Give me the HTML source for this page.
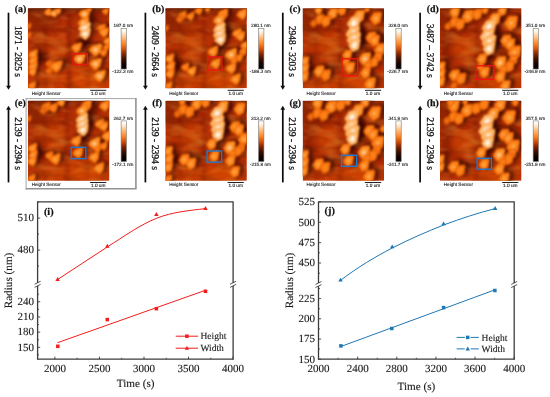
<!DOCTYPE html>
<html lang="en"><head><meta charset="utf-8"><title>Figure</title>
<style>html,body{margin:0;padding:0;background:#fff}svg{display:block}</style></head><body>
<svg width="550" height="397" viewBox="0 0 550 397" text-rendering="geometricPrecision">
<defs>
<clipPath id="pc"><rect x="0" y="0" width="81.3" height="80"/></clipPath>
<filter id="b0" x="-5%" y="-5%" width="110%" height="110%"><feGaussianBlur stdDeviation="0.9"/></filter>
<filter id="b1" x="-10%" y="-10%" width="120%" height="120%"><feGaussianBlur stdDeviation="1.3"/></filter>
<filter id="b2" x="-10%" y="-10%" width="120%" height="120%"><feGaussianBlur stdDeviation="2"/></filter>
<filter id="nz" x="0" y="0" width="100%" height="100%"><feTurbulence type="fractalNoise" baseFrequency="0.06 0.13" numOctaves="2" seed="7" result="t"/><feColorMatrix type="matrix" values="0 0 0 0 0.2  0 0 0 0 0.02  0 0 0 0 0  1.1 0 0 0 -0.5"/></filter>
<filter id="nz2" x="0" y="0" width="100%" height="100%"><feTurbulence type="fractalNoise" baseFrequency="0.05 0.11" numOctaves="2" seed="11" result="t"/><feColorMatrix type="matrix" values="0 0 0 0 0.92  0 0 0 0 0.34  0 0 0 0 0.04  0 1.0 0 0 -0.46"/></filter>
<filter id="b6" x="-40%" y="-40%" width="180%" height="180%"><feGaussianBlur stdDeviation="6"/></filter>
<filter id="b3" x="-20%" y="-20%" width="140%" height="140%"><feGaussianBlur stdDeviation="3"/></filter>
<linearGradient id="cb" x1="0" y1="0" x2="0" y2="1"><stop offset="0" stop-color="#ffffff"/><stop offset="0.08" stop-color="#fff4e4"/><stop offset="0.22" stop-color="#ffc080"/><stop offset="0.38" stop-color="#ff8424"/><stop offset="0.5" stop-color="#d85408"/><stop offset="0.62" stop-color="#8c2800"/><stop offset="0.75" stop-color="#401000"/><stop offset="0.88" stop-color="#140200"/><stop offset="1" stop-color="#000000"/></linearGradient>
<radialGradient id="g0" cx="0.47" cy="0.52" r="0.62"><stop offset="0" stop-color="#d05608"/><stop offset="1" stop-color="#c84e08"/></radialGradient>
<radialGradient id="g1" cx="0.47" cy="0.52" r="0.62"><stop offset="0" stop-color="#f87a10"/><stop offset="0.6" stop-color="#f07010"/><stop offset="1" stop-color="#ec6a0c"/></radialGradient>
<radialGradient id="g2" cx="0.47" cy="0.52" r="0.62"><stop offset="0" stop-color="#ff9624"/><stop offset="0.6" stop-color="#fd8216"/><stop offset="1" stop-color="#fa7c12"/></radialGradient>
<radialGradient id="g3" cx="0.47" cy="0.52" r="0.62"><stop offset="0" stop-color="#ffc474"/><stop offset="0.5" stop-color="#ff9a2a"/><stop offset="1" stop-color="#fe881a"/></radialGradient>
<radialGradient id="g4" cx="0.47" cy="0.52" r="0.62"><stop offset="0" stop-color="#fff0d4"/><stop offset="0.4" stop-color="#ffbe68"/><stop offset="1" stop-color="#ff9426"/></radialGradient>
<radialGradient id="g5" cx="0.47" cy="0.52" r="0.62"><stop offset="0" stop-color="#ffffff"/><stop offset="0.45" stop-color="#fff0dc"/><stop offset="0.8" stop-color="#ffd29a"/><stop offset="1" stop-color="#ffbc6c"/></radialGradient>
</defs>
<rect width="550" height="397" fill="#fff"/>
<path d="M26.1,98.2 V189.6 M25.7,98.6 H136.7" stroke="#9a9c9c" stroke-width="0.9" fill="none"/>
<path d="M135.9,98.2 V189.6 M25.7,188.8 H136.7" stroke="#929292" stroke-width="1.6" fill="none"/>
<g transform="translate(27.9,8.3)">
<g clip-path="url(#pc)">
<rect x="0" y="0" width="82" height="80" fill="#c03406"/>
<g filter="url(#b6)">
<ellipse cx="10" cy="12" rx="22" ry="13" fill="#6e1400" opacity="0.5"/>
<ellipse cx="40" cy="-3" rx="50" ry="5" fill="#4a0a00" opacity="0.7"/>
<ellipse cx="26" cy="40" rx="16" ry="10" fill="#d4480a" opacity="0.45"/>
<ellipse cx="60" cy="74" rx="22" ry="8" fill="#d84c0a" opacity="0.4"/>
</g>
<g filter="url(#b3)">
<rect x="-5" y="-5" width="91" height="7" fill="#3a0800" opacity="0.9"/>
<ellipse cx="57" cy="34" rx="8" ry="5" fill="#300400" opacity="0.9"/>
<ellipse cx="14" cy="49" rx="6" ry="5" fill="#300400" opacity="0.85"/>
<ellipse cx="66" cy="12" rx="6" ry="6" fill="#400800" opacity="0.6"/>
<ellipse cx="62" cy="70" rx="22" ry="12" fill="#d64a0a" opacity="0.6"/>
<ellipse cx="25" cy="72" rx="18" ry="8" fill="#cc4206" opacity="0.5"/>
</g>
<g filter="url(#b2)" opacity="0.8">
<rect x="39.5" y="-2" width="3.5" height="84" fill="#500a00" opacity="0.6"/>
<rect x="16" y="-2" width="3" height="84" fill="#500a00" opacity="0.45"/>
<rect x="59" y="-2" width="3" height="84" fill="#500a00" opacity="0.3"/>
<rect x="27" y="-2" width="2" height="84" fill="#500a00" opacity="0.2"/>
<rect x="-2" y="20" width="85" height="3.5" fill="#500a00" opacity="0.45"/>
<rect x="-2" y="35" width="85" height="3" fill="#500a00" opacity="0.4"/>
<rect x="-2" y="50" width="85" height="2.5" fill="#500a00" opacity="0.3"/>
<rect x="-2" y="8" width="85" height="2" fill="#500a00" opacity="0.25"/>
</g>
<rect x="0" y="0" width="82" height="80" filter="url(#nz)"/>
<rect x="0" y="0" width="82" height="80" filter="url(#nz2)"/>
<g filter="url(#b2)" fill="#200300" stroke="#200300" opacity="0.7">
<polygon points="24.12,-1.54 19.96,2.44 19.55,4.98 24.2,6.28 25.27,3.05" stroke-width="2.34" stroke-linejoin="round"/>
<polygon points="30.92,-0.16 26.14,3.04 25.28,5.47 29.64,7.55 31.25,4.56" stroke-width="2.34" stroke-linejoin="round"/>
<polygon points="34.77,-0.93 30.32,1.03 29.25,2.93 32.57,5.31 34.36,3.05" stroke-width="1.98" stroke-linejoin="round"/>
<polygon points="65.07,-0.05 57.33,1.84 55.07,4.6 59.75,9.37 63.27,6.24" stroke-width="3.24" stroke-linejoin="round"/>
<polygon points="65.34,-2.07 61.29,-0.29 60.32,1.44 63.34,3.6 64.96,1.55" stroke-width="1.8" stroke-linejoin="round"/>
<polygon points="82.71,-1.28 77.85,0.85 76.68,2.93 80.31,5.52 82.25,3.06" stroke-width="2.16" stroke-linejoin="round"/>
<polygon points="63.76,8.49 56.22,11.05 54.2,14 59.28,18.35 62.51,14.92" stroke-width="3.24" stroke-linejoin="round"/>
<polygon points="64.76,13.99 57.22,16.55 55.2,19.5 60.28,23.85 63.51,20.42" stroke-width="3.24" stroke-linejoin="round"/>
<polygon points="64.8,19.83 57.68,22.24 55.77,25.03 60.57,29.13 63.62,25.9" stroke-width="3.06" stroke-linejoin="round"/>
<polygon points="80.24,15.18 74.22,16.65 72.46,18.8 76.11,22.51 78.84,20.08" stroke-width="2.52" stroke-linejoin="round"/>
<polygon points="83.7,19.07 76.83,20.75 74.82,23.2 78.98,27.44 82.1,24.66" stroke-width="2.88" stroke-linejoin="round"/>
<polygon points="85.57,28 79.9,30.5 78.54,32.92 82.78,35.94 85.04,33.07" stroke-width="2.52" stroke-linejoin="round"/>
<polygon points="83.71,34.72 78.85,36.85 77.68,38.93 81.31,41.52 83.25,39.06" stroke-width="2.16" stroke-linejoin="round"/>
<polygon points="56.59,34.06 49.28,35.84 47.14,38.45 51.57,42.96 54.88,40" stroke-width="3.06" stroke-linejoin="round"/>
<polygon points="77.13,35.13 68.53,37.23 66.02,40.3 71.23,45.61 75.13,42.13" stroke-width="3.6" stroke-linejoin="round"/>
<polygon points="81.76,40.29 76.17,41.66 74.54,43.65 77.92,47.1 80.46,44.84" stroke-width="2.34" stroke-linejoin="round"/>
<polygon points="60.55,44.54 52.38,46.54 49.99,49.45 54.94,54.49 58.65,51.19" stroke-width="3.42" stroke-linejoin="round"/>
<polygon points="76.65,49.54 68.48,51.54 66.09,54.45 71.04,59.49 74.75,56.19" stroke-width="3.42" stroke-linejoin="round"/>
<polygon points="80.65,61.64 72.48,63.64 70.09,66.55 75.04,71.59 78.75,68.29" stroke-width="3.42" stroke-linejoin="round"/>
<polygon points="11.94,40.59 5.46,43.44 3.91,46.2 8.74,49.66 11.34,46.38" stroke-width="2.88" stroke-linejoin="round"/>
<polygon points="11.94,47.09 5.46,49.94 3.91,52.7 8.74,56.16 11.34,52.88" stroke-width="2.88" stroke-linejoin="round"/>
<polygon points="11.94,52.69 5.46,55.54 3.91,58.3 8.74,61.76 11.34,58.48" stroke-width="2.88" stroke-linejoin="round"/>
<polygon points="10.47,58.5 4.8,61 3.44,63.42 7.68,66.44 9.94,63.57" stroke-width="2.52" stroke-linejoin="round"/>
<polygon points="37.35,52.14 29.18,54.14 26.79,57.05 31.74,62.09 35.45,58.79" stroke-width="3.42" stroke-linejoin="round"/>
<polygon points="10.07,72.5 4.4,75 3.04,77.42 7.28,80.44 9.54,77.57" stroke-width="2.52" stroke-linejoin="round"/>
</g>
<g filter="url(#b0)">
<polygon points="21.58,-0.23 17.89,3.31 17.52,5.57 21.65,6.72 22.6,3.85" fill="#f06408" stroke="#f06408" stroke-width="2.5" stroke-linejoin="round"/><polygon points="21.15,0.8 18.29,3.54 18,5.29 21.2,6.18 21.94,3.96" fill="url(#g3)" stroke="#fe881a" stroke-width="1.87" stroke-linejoin="round"/>
<polygon points="28.29,1.11 24.04,3.95 23.28,6.11 27.16,7.96 28.59,5.3" fill="#f26808" stroke="#f26808" stroke-width="2.5" stroke-linejoin="round"/><polygon points="27.87,1.77 24.26,4.19 23.61,6.02 26.9,7.6 28.12,5.34" fill="url(#g4)" stroke="#ff9426" stroke-width="1.87" stroke-linejoin="round"/>
<polygon points="32.48,0.1 28.52,1.84 27.57,3.53 30.53,5.64 32.11,3.63" fill="#f06408" stroke="#f06408" stroke-width="2.11" stroke-linejoin="round"/><polygon points="31.86,0.82 28.79,2.17 28.05,3.48 30.34,5.11 31.57,3.56" fill="url(#g3)" stroke="#fe881a" stroke-width="1.58" stroke-linejoin="round"/>
<polygon points="61.22,1.53 54.35,3.21 52.34,5.66 56.5,9.9 59.62,7.12" fill="#f26808" stroke="#f26808" stroke-width="3.46" stroke-linejoin="round"/><polygon points="60.39,2.23 54.55,3.66 52.84,5.74 56.38,9.35 59.03,6.99" fill="url(#g4)" stroke="#ff9426" stroke-width="2.59" stroke-linejoin="round"/>
<polygon points="63.26,-1.14 59.66,0.44 58.79,1.98 61.48,3.9 62.92,2.08" fill="#ea5e06" stroke="#ea5e06" stroke-width="1.92" stroke-linejoin="round"/><polygon points="62.63,-0.42 59.93,0.77 59.28,1.92 61.3,3.36 62.38,1.99" fill="url(#g2)" stroke="#fa7c12" stroke-width="1.44" stroke-linejoin="round"/>
<polygon points="80.21,-0.17 75.89,1.73 74.85,3.58 78.08,5.88 79.8,3.69" fill="#ea5e06" stroke="#ea5e06" stroke-width="2.3" stroke-linejoin="round"/><polygon points="79.46,0.7 76.22,2.12 75.44,3.5 77.86,5.23 79.16,3.59" fill="url(#g2)" stroke="#fa7c12" stroke-width="1.73" stroke-linejoin="round"/>
<polygon points="59.96,10.12 53.26,12.4 51.47,15.01 55.98,18.88 58.85,15.83" fill="#f26808" stroke="#f26808" stroke-width="3.46" stroke-linejoin="round"/><polygon points="59.18,10.89 53.48,12.82 51.96,15.05 55.8,18.33 58.24,15.74" fill="url(#g4)" stroke="#ff9426" stroke-width="2.59" stroke-linejoin="round"/>
<polygon points="61.23,15.36 54.12,17.77 52.22,20.55 57.01,24.64 60.05,21.41" fill="#f6760e" stroke="#f6760e" stroke-width="3.66" stroke-linejoin="round"/><polygon points="61.11,15.47 54.01,17.88 52.11,20.66 56.9,24.76 59.94,21.53" fill="url(#g5)" stroke="#ffbc6c" stroke-width="2.75" stroke-linejoin="round"/>
<polygon points="61.46,21.12 54.75,23.39 52.96,26.01 57.48,29.88 60.36,26.84" fill="#f6760e" stroke="#f6760e" stroke-width="3.46" stroke-linejoin="round"/><polygon points="61.36,21.22 54.65,23.5 52.85,26.12 57.38,29.99 60.25,26.94" fill="url(#g5)" stroke="#ffbc6c" stroke-width="2.59" stroke-linejoin="round"/>
<polygon points="77.25,16.41 71.9,17.72 70.34,19.63 73.58,22.93 76.01,20.76" fill="#ea5e06" stroke="#ea5e06" stroke-width="2.69" stroke-linejoin="round"/><polygon points="76.23,17.27 72.22,18.25 71.05,19.68 73.47,22.15 75.3,20.53" fill="url(#g2)" stroke="#fa7c12" stroke-width="2.02" stroke-linejoin="round"/>
<polygon points="80.29,20.47 74.18,21.96 72.39,24.14 76.09,27.92 78.87,25.44" fill="#f06408" stroke="#f06408" stroke-width="3.07" stroke-linejoin="round"/><polygon points="79.23,21.36 74.49,22.52 73.1,24.21 75.97,27.13 78.12,25.21" fill="url(#g3)" stroke="#fe881a" stroke-width="2.3" stroke-linejoin="round"/>
<polygon points="82.66,29.3 77.62,31.52 76.41,33.67 80.17,36.36 82.19,33.81" fill="#f06408" stroke="#f06408" stroke-width="2.69" stroke-linejoin="round"/><polygon points="81.86,30.22 77.96,31.94 77.02,33.6 79.94,35.69 81.5,33.71" fill="url(#g3)" stroke="#fe881a" stroke-width="2.02" stroke-linejoin="round"/>
<polygon points="81.21,35.83 76.89,37.73 75.85,39.58 79.08,41.88 80.8,39.69" fill="#ea5e06" stroke="#ea5e06" stroke-width="2.3" stroke-linejoin="round"/><polygon points="80.46,36.7 77.22,38.12 76.44,39.5 78.86,41.23 80.16,39.59" fill="url(#g2)" stroke="#fa7c12" stroke-width="1.73" stroke-linejoin="round"/>
<polygon points="52.96,35.55 46.46,37.14 44.56,39.45 48.5,43.46 51.44,40.83" fill="#f06408" stroke="#f06408" stroke-width="3.26" stroke-linejoin="round"/><polygon points="51.83,36.49 46.8,37.72 45.32,39.52 48.37,42.63 50.66,40.59" fill="url(#g3)" stroke="#fe881a" stroke-width="2.45" stroke-linejoin="round"/>
<polygon points="72.86,36.88 65.22,38.75 62.98,41.48 67.61,46.19 71.08,43.1" fill="#f26808" stroke="#f26808" stroke-width="3.84" stroke-linejoin="round"/><polygon points="71.94,37.67 65.44,39.26 63.54,41.57 67.48,45.58 70.42,42.95" fill="url(#g4)" stroke="#ff9426" stroke-width="2.88" stroke-linejoin="round"/>
<polygon points="78.98,41.43 74.02,42.64 72.56,44.42 75.57,47.48 77.83,45.47" fill="#ea5e06" stroke="#ea5e06" stroke-width="2.5" stroke-linejoin="round"/><polygon points="78.04,42.23 74.31,43.14 73.22,44.47 75.48,46.76 77.17,45.26" fill="url(#g2)" stroke="#fa7c12" stroke-width="1.87" stroke-linejoin="round"/>
<polygon points="56.49,46.2 49.23,47.98 47.11,50.57 51.51,55.05 54.8,52.11" fill="#f26808" stroke="#f26808" stroke-width="3.65" stroke-linejoin="round"/><polygon points="55.61,46.95 49.44,48.46 47.64,50.66 51.38,54.47 54.18,51.97" fill="url(#g4)" stroke="#ff9426" stroke-width="2.74" stroke-linejoin="round"/>
<polygon points="72.59,51.2 65.33,52.98 63.21,55.57 67.61,60.05 70.9,57.11" fill="#f26808" stroke="#f26808" stroke-width="3.65" stroke-linejoin="round"/><polygon points="71.71,51.95 65.54,53.46 63.74,55.66 67.48,59.47 70.28,56.97" fill="url(#g4)" stroke="#ff9426" stroke-width="2.74" stroke-linejoin="round"/>
<polygon points="76.59,63.3 69.33,65.08 67.21,67.67 71.61,72.15 74.9,69.21" fill="#f26808" stroke="#f26808" stroke-width="3.65" stroke-linejoin="round"/><polygon points="75.71,64.05 69.54,65.56 67.74,67.76 71.48,71.57 74.28,69.07" fill="url(#g4)" stroke="#ff9426" stroke-width="2.74" stroke-linejoin="round"/>
<polygon points="8.61,42.08 2.85,44.61 1.47,47.07 5.77,50.14 8.07,47.22" fill="#f06408" stroke="#f06408" stroke-width="3.07" stroke-linejoin="round"/><polygon points="7.7,43.12 3.24,45.09 2.17,46.99 5.5,49.37 7.28,47.11" fill="url(#g3)" stroke="#fe881a" stroke-width="2.3" stroke-linejoin="round"/>
<polygon points="8.61,48.58 2.85,51.11 1.47,53.57 5.77,56.64 8.07,53.72" fill="#f06408" stroke="#f06408" stroke-width="3.07" stroke-linejoin="round"/><polygon points="7.7,49.62 3.24,51.59 2.17,53.49 5.5,55.87 7.28,53.61" fill="url(#g3)" stroke="#fe881a" stroke-width="2.3" stroke-linejoin="round"/>
<polygon points="8.61,54.18 2.85,56.71 1.47,59.17 5.77,62.24 8.07,59.32" fill="#f06408" stroke="#f06408" stroke-width="3.07" stroke-linejoin="round"/><polygon points="7.7,55.22 3.24,57.19 2.17,59.09 5.5,61.47 7.28,59.21" fill="url(#g3)" stroke="#fe881a" stroke-width="2.3" stroke-linejoin="round"/>
<polygon points="7.56,59.8 2.52,62.02 1.31,64.17 5.07,66.86 7.09,64.31" fill="#f06408" stroke="#f06408" stroke-width="2.69" stroke-linejoin="round"/><polygon points="6.76,60.72 2.86,62.44 1.92,64.1 4.84,66.19 6.4,64.21" fill="url(#g3)" stroke="#fe881a" stroke-width="2.02" stroke-linejoin="round"/>
<polygon points="23.71,52.23 19.39,54.13 18.35,55.98 21.58,58.28 23.3,56.09" fill="#da5404" stroke="#da5404" stroke-width="2.3" stroke-linejoin="round"/><polygon points="22.89,53.18 19.76,54.55 19.01,55.89 21.35,57.56 22.6,55.97" fill="url(#g1)" stroke="#ec6a0c" stroke-width="1.73" stroke-linejoin="round"/>
<polygon points="23.71,59.33 19.39,61.23 18.35,63.08 21.58,65.38 23.3,63.19" fill="#da5404" stroke="#da5404" stroke-width="2.3" stroke-linejoin="round"/><polygon points="22.89,60.28 19.76,61.65 19.01,62.99 21.35,64.66 22.6,63.07" fill="url(#g1)" stroke="#ec6a0c" stroke-width="1.73" stroke-linejoin="round"/>
<polygon points="33.29,53.8 26.03,55.58 23.91,58.17 28.31,62.65 31.6,59.71" fill="#f06408" stroke="#f06408" stroke-width="3.65" stroke-linejoin="round"/><polygon points="32.03,54.86 26.41,56.24 24.76,58.25 28.17,61.72 30.72,59.44" fill="url(#g3)" stroke="#fe881a" stroke-width="2.74" stroke-linejoin="round"/>
<polygon points="7.16,73.8 2.12,76.02 0.91,78.17 4.67,80.86 6.69,78.31" fill="#ea5e06" stroke="#ea5e06" stroke-width="2.69" stroke-linejoin="round"/><polygon points="6.28,74.81 2.5,76.48 1.6,78.09 4.42,80.1 5.93,78.19" fill="url(#g2)" stroke="#fa7c12" stroke-width="2.02" stroke-linejoin="round"/>
<polygon points="2.76,15.36 -0.84,16.94 -1.71,18.48 0.98,20.4 2.42,18.58" fill="#da5404" stroke="#da5404" stroke-width="1.92" stroke-linejoin="round"/><polygon points="2.08,16.15 -0.53,17.29 -1.16,18.41 0.79,19.8 1.83,18.48" fill="url(#g1)" stroke="#ec6a0c" stroke-width="1.44" stroke-linejoin="round"/>
<polygon points="2.76,24.36 -0.84,25.94 -1.71,27.48 0.98,29.4 2.42,27.58" fill="#da5404" stroke="#da5404" stroke-width="1.92" stroke-linejoin="round"/><polygon points="2.08,25.15 -0.53,26.29 -1.16,27.41 0.79,28.8 1.83,27.48" fill="url(#g1)" stroke="#ec6a0c" stroke-width="1.44" stroke-linejoin="round"/>
</g>
</g>
<rect x="45.2" y="45.5" width="14.3" height="10.6" fill="none" stroke="#f01414" stroke-width="1.35"/>
<text x="3.8" y="86.3" font-size="4.75" font-family="Liberation Sans, sans-serif" fill="#222" stroke="#222" stroke-width="0.12" textLength="29.2" lengthAdjust="spacingAndGlyphs">Height Sensor</text>
<rect x="62.2" y="81.5" width="16.2" height="1.0" fill="#222"/>
<text x="70.3" y="86.9" font-size="4.75" font-family="Liberation Sans, sans-serif" fill="#222" stroke="#222" stroke-width="0.12" text-anchor="middle">1.0 um</text>
<rect x="93.2" y="20.1" width="5.3" height="40.6" fill="url(#cb)" stroke="#777" stroke-width="0.6"/>
<text x="95.5" y="19.2" font-size="4.7" font-family="Liberation Sans, sans-serif" fill="#222" stroke="#222" stroke-width="0.12" text-anchor="middle">187.0 nm</text>
<text x="95" y="65.0" font-size="4.7" font-family="Liberation Sans, sans-serif" fill="#222" stroke="#222" stroke-width="0.12" text-anchor="middle">-122.3 nm</text>
<text x="-13.2" y="4" font-size="9.9"  font-weight="bold" font-family="Liberation Serif, serif" fill="#111" stroke="#111" stroke-width="0.25">(a)</text>
<rect x="-20.25" y="4.4" width="1.7" height="74" fill="#0a0a0a"/>
<polygon points="-19.4,81.4 -21.8,77.4 -17,77.4" fill="#111"/>
<text transform="translate(-12.8,17.6) rotate(90)" font-size="10.4" font-family="Liberation Serif, serif" fill="#111" stroke="#111" stroke-width="0.3" textLength="51" lengthAdjust="spacingAndGlyphs">1871 - 2825 s</text>
</g>
<g transform="translate(165.4,8.3)">
<g clip-path="url(#pc)">
<rect x="0" y="0" width="82" height="80" fill="#bc3204"/>
<g filter="url(#b6)">
<ellipse cx="10" cy="12" rx="22" ry="13" fill="#6e1400" opacity="0.5"/>
<ellipse cx="40" cy="-3" rx="50" ry="5" fill="#4a0a00" opacity="0.7"/>
<ellipse cx="26" cy="40" rx="16" ry="10" fill="#d4480a" opacity="0.45"/>
<ellipse cx="60" cy="74" rx="22" ry="8" fill="#d84c0a" opacity="0.4"/>
</g>
<g filter="url(#b3)">
<rect x="-5" y="-5" width="91" height="6" fill="#3a0800" opacity="0.7"/>
<ellipse cx="56" cy="38" rx="7" ry="5" fill="#300400" opacity="0.9"/>
<ellipse cx="63" cy="22" rx="5" ry="9" fill="#300400" opacity="0.7"/>
<ellipse cx="12" cy="57" rx="6" ry="5" fill="#300400" opacity="0.85"/>
<ellipse cx="67" cy="9" rx="5" ry="5" fill="#400800" opacity="0.6"/>
<ellipse cx="79" cy="32" rx="4" ry="5" fill="#300400" opacity="0.6"/>
<ellipse cx="55" cy="72" rx="26" ry="10" fill="#d44808" opacity="0.6"/>
<ellipse cx="25" cy="74" rx="18" ry="7" fill="#c84006" opacity="0.5"/>
<ellipse cx="25" cy="30" rx="14" ry="12" fill="#c63e06" opacity="0.4"/>
</g>
<g filter="url(#b2)" opacity="0.8">
<rect x="36.5" y="-2" width="3.5" height="84" fill="#500a00" opacity="0.5"/>
<rect x="14" y="-2" width="3" height="84" fill="#500a00" opacity="0.35"/>
<rect x="58" y="-2" width="3" height="84" fill="#500a00" opacity="0.25"/>
<rect x="-2" y="22" width="85" height="3.5" fill="#500a00" opacity="0.4"/>
<rect x="-2" y="41" width="85" height="3" fill="#500a00" opacity="0.4"/>
<rect x="-2" y="53" width="85" height="2.5" fill="#500a00" opacity="0.25"/>
</g>
<rect x="0" y="0" width="82" height="80" filter="url(#nz)"/>
<rect x="0" y="0" width="82" height="80" filter="url(#nz2)"/>
<g filter="url(#b2)" fill="#200300" stroke="#200300" opacity="0.7">
<polygon points="39.17,-2.51 33.6,-0.06 32.26,2.32 36.42,5.29 38.65,2.47" stroke-width="2.48" stroke-linejoin="round"/>
<polygon points="46.27,-2.51 42.28,-0.76 41.33,0.94 44.3,3.06 45.89,1.05" stroke-width="1.77" stroke-linejoin="round"/>
<polygon points="22.97,2.09 17.4,4.54 16.06,6.92 20.22,9.89 22.45,7.07" stroke-width="2.48" stroke-linejoin="round"/>
<polygon points="30.97,3.09 25.4,5.54 24.06,7.92 28.22,10.89 30.45,8.07" stroke-width="2.48" stroke-linejoin="round"/>
<polygon points="65.08,-0.32 57.91,2.84 56.19,5.89 61.54,9.72 64.41,6.08" stroke-width="3.19" stroke-linejoin="round"/>
<polygon points="61.5,5.33 53.94,8.66 52.12,11.89 57.77,15.92 60.8,12.09" stroke-width="3.36" stroke-linejoin="round"/>
<polygon points="84.28,-0.32 77.11,2.84 75.39,5.89 80.74,9.72 83.61,6.08" stroke-width="3.19" stroke-linejoin="round"/>
<polygon points="62.1,14.33 54.54,17.66 52.72,20.89 58.37,24.92 61.4,21.09" stroke-width="3.36" stroke-linejoin="round"/>
<polygon points="62.1,19.53 54.54,22.86 52.72,26.09 58.37,30.12 61.4,26.29" stroke-width="3.36" stroke-linejoin="round"/>
<polygon points="62.48,24.88 55.31,28.04 53.59,31.09 58.94,34.92 61.81,31.28" stroke-width="3.19" stroke-linejoin="round"/>
<polygon points="78.33,19.58 71.95,22.39 70.42,25.11 75.18,28.5 77.73,25.28" stroke-width="2.83" stroke-linejoin="round"/>
<polygon points="81.83,22.58 75.45,25.39 73.92,28.11 78.68,31.5 81.23,28.28" stroke-width="2.83" stroke-linejoin="round"/>
<polygon points="86.43,31.68 80.05,34.49 78.52,37.21 83.28,40.6 85.83,37.38" stroke-width="2.83" stroke-linejoin="round"/>
<polygon points="83.57,38.39 78,40.84 76.66,43.22 80.82,46.19 83.05,43.37" stroke-width="2.48" stroke-linejoin="round"/>
<polygon points="55.08,36.98 47.91,40.14 46.19,43.19 51.54,47.02 54.41,43.38" stroke-width="3.19" stroke-linejoin="round"/>
<polygon points="74.03,39.28 66.07,42.78 64.15,46.18 70.1,50.43 73.29,46.39" stroke-width="3.54" stroke-linejoin="round"/>
<polygon points="79.47,44.49 73.9,46.94 72.56,49.32 76.72,52.29 78.95,49.47" stroke-width="2.48" stroke-linejoin="round"/>
<polygon points="73.62,48.59 68.84,50.69 67.69,52.73 71.26,55.28 73.17,52.86" stroke-width="2.12" stroke-linejoin="round"/>
<polygon points="57.68,49.08 50.51,52.24 48.79,55.29 54.14,59.12 57.01,55.48" stroke-width="3.19" stroke-linejoin="round"/>
<polygon points="73.18,53.68 66.01,56.84 64.29,59.89 69.64,63.72 72.51,60.08" stroke-width="3.19" stroke-linejoin="round"/>
<polygon points="77.68,64.68 70.51,67.84 68.79,70.89 74.14,74.72 77.01,71.08" stroke-width="3.19" stroke-linejoin="round"/>
<polygon points="10.83,44.78 4.45,47.59 2.92,50.31 7.68,53.7 10.23,50.48" stroke-width="2.83" stroke-linejoin="round"/>
<polygon points="11.83,52.78 5.45,55.59 3.92,58.31 8.68,61.7 11.23,58.48" stroke-width="2.83" stroke-linejoin="round"/>
<polygon points="11.23,59.88 4.85,62.69 3.32,65.41 8.08,68.8 10.63,65.58" stroke-width="2.83" stroke-linejoin="round"/>
<polygon points="8.97,72.59 3.4,75.04 2.06,77.42 6.22,80.39 8.45,77.57" stroke-width="2.48" stroke-linejoin="round"/>
<polygon points="25.67,53.89 20.1,56.34 18.76,58.72 22.92,61.69 25.15,58.87" stroke-width="2.48" stroke-linejoin="round"/>
<polygon points="33.03,57.28 26.65,60.09 25.12,62.81 29.88,66.2 32.43,62.98" stroke-width="2.83" stroke-linejoin="round"/>
</g>
<g filter="url(#b0)">
<polygon points="36.31,-1.23 31.35,0.95 30.16,3.06 33.86,5.7 35.84,3.19" fill="#ea5e06" stroke="#ea5e06" stroke-width="2.64" stroke-linejoin="round"/><polygon points="35.45,-0.24 31.73,1.39 30.84,2.98 33.61,4.96 35.1,3.08" fill="url(#g2)" stroke="#fa7c12" stroke-width="1.98" stroke-linejoin="round"/>
<polygon points="44.22,-1.6 40.68,-0.04 39.83,1.47 42.47,3.36 43.89,1.57" fill="#ea5e06" stroke="#ea5e06" stroke-width="1.89" stroke-linejoin="round"/><polygon points="43.6,-0.89 40.95,0.28 40.31,1.41 42.3,2.83 43.36,1.48" fill="url(#g2)" stroke="#fa7c12" stroke-width="1.42" stroke-linejoin="round"/>
<polygon points="20.11,3.37 15.15,5.55 13.96,7.66 17.66,10.3 19.64,7.79" fill="#ea5e06" stroke="#ea5e06" stroke-width="2.64" stroke-linejoin="round"/><polygon points="19.25,4.36 15.53,5.99 14.64,7.58 17.41,9.56 18.9,7.68" fill="url(#g2)" stroke="#fa7c12" stroke-width="1.98" stroke-linejoin="round"/>
<polygon points="28.11,4.37 23.15,6.55 21.96,8.66 25.66,11.3 27.64,8.79" fill="#ea5e06" stroke="#ea5e06" stroke-width="2.64" stroke-linejoin="round"/><polygon points="27.25,5.36 23.53,6.99 22.64,8.58 25.41,10.56 26.9,8.68" fill="url(#g2)" stroke="#fa7c12" stroke-width="1.98" stroke-linejoin="round"/>
<polygon points="16.66,7.88 12.41,9.75 11.39,11.57 14.57,13.83 16.27,11.68" fill="#da5404" stroke="#da5404" stroke-width="2.27" stroke-linejoin="round"/><polygon points="15.86,8.81 12.78,10.17 12.04,11.48 14.34,13.12 15.57,11.56" fill="url(#g1)" stroke="#ec6a0c" stroke-width="1.7" stroke-linejoin="round"/>
<polygon points="61.39,1.33 55.02,4.13 53.49,6.85 58.25,10.25 60.8,7.02" fill="#f06408" stroke="#f06408" stroke-width="3.4" stroke-linejoin="round"/><polygon points="60.39,2.48 55.45,4.66 54.26,6.76 57.95,9.4 59.93,6.9" fill="url(#g3)" stroke="#fe881a" stroke-width="2.55" stroke-linejoin="round"/>
<polygon points="57.61,7.07 50.89,10.03 49.27,12.9 54.3,16.48 56.99,13.08" fill="#f26808" stroke="#f26808" stroke-width="3.59" stroke-linejoin="round"/><polygon points="56.87,7.92 51.15,10.44 49.78,12.87 54.05,15.92 56.34,13.03" fill="url(#g4)" stroke="#ff9426" stroke-width="2.69" stroke-linejoin="round"/>
<polygon points="80.59,1.33 74.22,4.13 72.69,6.85 77.45,10.25 80,7.02" fill="#f06408" stroke="#f06408" stroke-width="3.4" stroke-linejoin="round"/><polygon points="79.59,2.48 74.65,4.66 73.46,6.76 77.15,9.4 79.13,6.9" fill="url(#g3)" stroke="#fe881a" stroke-width="2.55" stroke-linejoin="round"/>
<polygon points="58.47,15.77 51.34,18.91 49.63,21.95 54.95,25.75 57.8,22.14" fill="#f6760e" stroke="#f6760e" stroke-width="3.8" stroke-linejoin="round"/><polygon points="58.35,15.89 51.22,19.03 49.51,22.07 54.83,25.87 57.68,22.26" fill="url(#g5)" stroke="#ffbc6c" stroke-width="2.85" stroke-linejoin="round"/>
<polygon points="58.47,20.97 51.34,24.11 49.63,27.15 54.95,30.95 57.8,27.34" fill="#f6760e" stroke="#f6760e" stroke-width="3.8" stroke-linejoin="round"/><polygon points="58.35,21.09 51.22,24.23 49.51,27.27 54.83,31.07 57.68,27.46" fill="url(#g5)" stroke="#ffbc6c" stroke-width="2.85" stroke-linejoin="round"/>
<polygon points="59.03,26.25 52.28,29.22 50.66,32.1 55.7,35.7 58.4,32.28" fill="#f6760e" stroke="#f6760e" stroke-width="3.6" stroke-linejoin="round"/><polygon points="58.92,26.36 52.17,29.33 50.54,32.21 55.59,35.82 58.29,32.39" fill="url(#g5)" stroke="#ffbc6c" stroke-width="2.7" stroke-linejoin="round"/>
<polygon points="75.05,21.05 69.39,23.54 68.03,25.96 72.26,28.98 74.52,26.11" fill="#f06408" stroke="#f06408" stroke-width="3.02" stroke-linejoin="round"/><polygon points="74.16,22.08 69.77,24.01 68.71,25.88 71.99,28.22 73.75,26" fill="url(#g3)" stroke="#fe881a" stroke-width="2.27" stroke-linejoin="round"/>
<polygon points="78.55,24.05 72.89,26.54 71.53,28.96 75.76,31.98 78.02,29.11" fill="#f06408" stroke="#f06408" stroke-width="3.02" stroke-linejoin="round"/><polygon points="77.66,25.08 73.27,27.01 72.21,28.88 75.49,31.22 77.25,29" fill="url(#g3)" stroke="#fe881a" stroke-width="2.27" stroke-linejoin="round"/>
<polygon points="83.15,33.15 77.49,35.64 76.13,38.06 80.36,41.08 82.62,38.21" fill="#f06408" stroke="#f06408" stroke-width="3.02" stroke-linejoin="round"/><polygon points="82.26,34.18 77.87,36.11 76.81,37.98 80.09,40.32 81.85,38.1" fill="url(#g3)" stroke="#fe881a" stroke-width="2.27" stroke-linejoin="round"/>
<polygon points="80.71,39.67 75.75,41.85 74.56,43.96 78.26,46.6 80.24,44.09" fill="#ea5e06" stroke="#ea5e06" stroke-width="2.64" stroke-linejoin="round"/><polygon points="79.85,40.66 76.13,42.29 75.24,43.88 78.01,45.86 79.5,43.98" fill="url(#g2)" stroke="#fa7c12" stroke-width="1.98" stroke-linejoin="round"/>
<polygon points="51.39,38.63 45.02,41.43 43.49,44.15 48.25,47.55 50.8,44.32" fill="#f06408" stroke="#f06408" stroke-width="3.4" stroke-linejoin="round"/><polygon points="50.39,39.78 45.45,41.96 44.26,44.06 47.95,46.7 49.93,44.2" fill="url(#g3)" stroke="#fe881a" stroke-width="2.55" stroke-linejoin="round"/>
<polygon points="69.94,41.11 62.86,44.22 61.16,47.24 66.44,51.02 69.28,47.43" fill="#f26808" stroke="#f26808" stroke-width="3.78" stroke-linejoin="round"/><polygon points="69.15,42 63.14,44.65 61.69,47.22 66.18,50.43 68.59,47.38" fill="url(#g4)" stroke="#ff9426" stroke-width="2.83" stroke-linejoin="round"/>
<polygon points="76.61,45.77 71.65,47.95 70.46,50.06 74.16,52.7 76.14,50.19" fill="#ea5e06" stroke="#ea5e06" stroke-width="2.64" stroke-linejoin="round"/><polygon points="75.75,46.76 72.03,48.39 71.14,49.98 73.91,51.96 75.4,50.08" fill="url(#g2)" stroke="#fa7c12" stroke-width="1.98" stroke-linejoin="round"/>
<polygon points="71.16,49.68 66.91,51.55 65.89,53.37 69.07,55.63 70.77,53.48" fill="#ea5e06" stroke="#ea5e06" stroke-width="2.27" stroke-linejoin="round"/><polygon points="70.43,50.53 67.24,51.94 66.48,53.3 68.85,54.99 70.13,53.38" fill="url(#g2)" stroke="#fa7c12" stroke-width="1.7" stroke-linejoin="round"/>
<polygon points="53.99,50.73 47.62,53.53 46.09,56.25 50.85,59.65 53.4,56.42" fill="#f06408" stroke="#f06408" stroke-width="3.4" stroke-linejoin="round"/><polygon points="52.99,51.88 48.05,54.06 46.86,56.16 50.55,58.8 52.53,56.3" fill="url(#g3)" stroke="#fe881a" stroke-width="2.55" stroke-linejoin="round"/>
<polygon points="69.49,55.33 63.12,58.13 61.59,60.85 66.35,64.25 68.9,61.02" fill="#f06408" stroke="#f06408" stroke-width="3.4" stroke-linejoin="round"/><polygon points="68.49,56.48 63.55,58.66 62.36,60.76 66.05,63.4 68.03,60.9" fill="url(#g3)" stroke="#fe881a" stroke-width="2.55" stroke-linejoin="round"/>
<polygon points="73.99,66.33 67.62,69.13 66.09,71.85 70.85,75.25 73.4,72.02" fill="#f06408" stroke="#f06408" stroke-width="3.4" stroke-linejoin="round"/><polygon points="72.99,67.48 68.05,69.66 66.86,71.76 70.55,74.4 72.53,71.9" fill="url(#g3)" stroke="#fe881a" stroke-width="2.55" stroke-linejoin="round"/>
<polygon points="7.55,46.25 1.89,48.74 0.53,51.16 4.76,54.18 7.02,51.31" fill="#f06408" stroke="#f06408" stroke-width="3.02" stroke-linejoin="round"/><polygon points="6.66,47.28 2.27,49.21 1.21,51.08 4.49,53.42 6.25,51.2" fill="url(#g3)" stroke="#fe881a" stroke-width="2.27" stroke-linejoin="round"/>
<polygon points="8.55,54.25 2.89,56.74 1.53,59.16 5.76,62.18 8.02,59.31" fill="#f06408" stroke="#f06408" stroke-width="3.02" stroke-linejoin="round"/><polygon points="7.66,55.28 3.27,57.21 2.21,59.08 5.49,61.42 7.25,59.2" fill="url(#g3)" stroke="#fe881a" stroke-width="2.27" stroke-linejoin="round"/>
<polygon points="7.95,61.35 2.29,63.84 0.93,66.26 5.16,69.28 7.42,66.41" fill="#f06408" stroke="#f06408" stroke-width="3.02" stroke-linejoin="round"/><polygon points="7.06,62.38 2.67,64.31 1.61,66.18 4.89,68.52 6.65,66.3" fill="url(#g3)" stroke="#fe881a" stroke-width="2.27" stroke-linejoin="round"/>
<polygon points="6.11,73.87 1.15,76.05 -0.04,78.16 3.66,80.8 5.64,78.29" fill="#ea5e06" stroke="#ea5e06" stroke-width="2.64" stroke-linejoin="round"/><polygon points="5.25,74.86 1.53,76.49 0.64,78.08 3.41,80.06 4.9,78.18" fill="url(#g2)" stroke="#fa7c12" stroke-width="1.98" stroke-linejoin="round"/>
<polygon points="22.81,55.17 17.85,57.35 16.66,59.46 20.36,62.1 22.34,59.59" fill="#ea5e06" stroke="#ea5e06" stroke-width="2.64" stroke-linejoin="round"/><polygon points="21.95,56.16 18.23,57.79 17.34,59.38 20.11,61.36 21.6,59.48" fill="url(#g2)" stroke="#fa7c12" stroke-width="1.98" stroke-linejoin="round"/>
<polygon points="29.75,58.75 24.09,61.24 22.73,63.66 26.96,66.68 29.22,63.81" fill="#f06408" stroke="#f06408" stroke-width="3.02" stroke-linejoin="round"/><polygon points="28.86,59.78 24.47,61.71 23.41,63.58 26.69,65.92 28.45,63.7" fill="url(#g3)" stroke="#fe881a" stroke-width="2.27" stroke-linejoin="round"/>
<polygon points="2.72,17.4 -0.82,18.96 -1.67,20.47 0.97,22.36 2.39,20.57" fill="#da5404" stroke="#da5404" stroke-width="1.89" stroke-linejoin="round"/><polygon points="2.05,18.18 -0.52,19.31 -1.13,20.4 0.78,21.77 1.81,20.47" fill="url(#g1)" stroke="#ec6a0c" stroke-width="1.42" stroke-linejoin="round"/>
</g>
</g>
<rect x="42.3" y="48.7" width="14.2" height="13" fill="none" stroke="#f01414" stroke-width="1.35"/>
<text x="3.8" y="86.3" font-size="4.75" font-family="Liberation Sans, sans-serif" fill="#222" stroke="#222" stroke-width="0.12" textLength="29.2" lengthAdjust="spacingAndGlyphs">Height Sensor</text>
<rect x="62.2" y="81.5" width="16.2" height="1.0" fill="#222"/>
<text x="70.3" y="86.9" font-size="4.75" font-family="Liberation Sans, sans-serif" fill="#222" stroke="#222" stroke-width="0.12" text-anchor="middle">1.0 um</text>
<rect x="93.2" y="20.1" width="5.3" height="40.6" fill="url(#cb)" stroke="#777" stroke-width="0.6"/>
<text x="95.5" y="19.2" font-size="4.7" font-family="Liberation Sans, sans-serif" fill="#222" stroke="#222" stroke-width="0.12" text-anchor="middle">280.1 nm</text>
<text x="95" y="65.0" font-size="4.7" font-family="Liberation Sans, sans-serif" fill="#222" stroke="#222" stroke-width="0.12" text-anchor="middle">-189.3 nm</text>
<text x="-13.2" y="4" font-size="9.9"  font-weight="bold" font-family="Liberation Serif, serif" fill="#111" stroke="#111" stroke-width="0.25">(b)</text>
<rect x="-20.85" y="4.4" width="1.7" height="74" fill="#0a0a0a"/>
<polygon points="-20,81.4 -22.4,77.4 -17.6,77.4" fill="#111"/>
<text transform="translate(-13.4,17.6) rotate(90)" font-size="10.4" font-family="Liberation Serif, serif" fill="#111" stroke="#111" stroke-width="0.3" textLength="51" lengthAdjust="spacingAndGlyphs">2409 - 2664 s</text>
</g>
<g transform="translate(302.7,8.3)">
<g clip-path="url(#pc)">
<rect x="0" y="0" width="82" height="80" fill="#bc3204"/>
<g filter="url(#b6)">
<ellipse cx="10" cy="12" rx="22" ry="13" fill="#6e1400" opacity="0.5"/>
<ellipse cx="40" cy="-3" rx="50" ry="5" fill="#4a0a00" opacity="0.7"/>
<ellipse cx="26" cy="40" rx="16" ry="10" fill="#d4480a" opacity="0.45"/>
<ellipse cx="60" cy="74" rx="22" ry="8" fill="#d84c0a" opacity="0.4"/>
</g>
<g filter="url(#b3)">
<ellipse cx="60" cy="30" rx="5" ry="11" fill="#2c0400" opacity="0.9"/>
<ellipse cx="52" cy="43" rx="6" ry="4" fill="#300400" opacity="0.9"/>
<ellipse cx="9" cy="62" rx="5" ry="5" fill="#300400" opacity="0.85"/>
<ellipse cx="64" cy="10" rx="4" ry="5" fill="#400800" opacity="0.6"/>
<ellipse cx="79" cy="30" rx="3" ry="6" fill="#300400" opacity="0.6"/>
<ellipse cx="30" cy="58" rx="6" ry="4" fill="#300400" opacity="0.5"/>
<ellipse cx="50" cy="74" rx="24" ry="9" fill="#d44808" opacity="0.6"/>
<ellipse cx="22" cy="76" rx="16" ry="6" fill="#c84006" opacity="0.5"/>
<ellipse cx="25" cy="35" rx="14" ry="12" fill="#c63e06" opacity="0.4"/>
</g>
<g filter="url(#b2)" opacity="0.8">
<rect x="36" y="-2" width="3.5" height="84" fill="#500a00" opacity="0.5"/>
<rect x="12" y="-2" width="3" height="84" fill="#500a00" opacity="0.35"/>
<rect x="-2" y="20" width="85" height="3.5" fill="#500a00" opacity="0.35"/>
<rect x="-2" y="45" width="85" height="3" fill="#500a00" opacity="0.4"/>
<rect x="-2" y="58" width="85" height="2.5" fill="#500a00" opacity="0.25"/>
</g>
<rect x="0" y="0" width="82" height="80" filter="url(#nz)"/>
<rect x="0" y="0" width="82" height="80" filter="url(#nz2)"/>
<g filter="url(#b2)" fill="#200300" stroke="#200300" opacity="0.7">
<polygon points="17.49,-2.64 21.79,-3.1 20.71,3.05 17.49,4.59 15.03,1.21" stroke-width="2.56" stroke-linejoin="round"/>
<polygon points="32.11,-0.45 37.64,-1.04 36.26,6.87 32.11,8.84 28.95,4.49" stroke-width="3.29" stroke-linejoin="round"/>
<polygon points="41,-2.44 45.92,-2.97 44.69,4.06 41,5.82 38.19,1.95" stroke-width="2.93" stroke-linejoin="round"/>
<polygon points="65.56,-2.03 68.64,-2.35 67.87,2.04 65.56,3.14 63.8,0.72" stroke-width="1.83" stroke-linejoin="round"/>
<polygon points="18.7,6.16 23.62,5.63 22.39,12.66 18.7,14.42 15.89,10.55" stroke-width="2.93" stroke-linejoin="round"/>
<polygon points="25.11,7.55 30.64,6.96 29.26,14.87 25.11,16.84 21.95,12.49" stroke-width="3.29" stroke-linejoin="round"/>
<polygon points="58.52,1.95 64.67,1.29 63.13,10.07 58.52,12.27 55.01,7.44" stroke-width="3.66" stroke-linejoin="round"/>
<polygon points="53.63,8.65 60.09,7.95 58.47,17.18 53.63,19.48 49.94,14.41" stroke-width="3.84" stroke-linejoin="round"/>
<polygon points="75.62,3.95 81.77,3.29 80.23,12.07 75.62,14.27 72.11,9.44" stroke-width="3.66" stroke-linejoin="round"/>
<polygon points="52.74,18.54 59.5,17.82 57.81,27.48 52.74,29.9 48.87,24.58" stroke-width="4.03" stroke-linejoin="round"/>
<polygon points="53.74,24.54 60.5,23.82 58.81,33.48 53.74,35.9 49.87,30.58" stroke-width="4.03" stroke-linejoin="round"/>
<polygon points="54.02,30.95 59.86,30.33 58.4,38.67 54.02,40.76 50.68,36.17" stroke-width="3.48" stroke-linejoin="round"/>
<polygon points="70.41,23.75 75.94,23.16 74.56,31.07 70.41,33.04 67.25,28.69" stroke-width="3.29" stroke-linejoin="round"/>
<polygon points="73.91,26.75 79.44,26.16 78.06,34.07 73.91,36.04 70.75,31.69" stroke-width="3.29" stroke-linejoin="round"/>
<polygon points="79.72,35.25 85.87,34.59 84.33,43.37 79.72,45.57 76.21,40.74" stroke-width="3.66" stroke-linejoin="round"/>
<polygon points="77.2,43.56 82.12,43.03 80.89,50.06 77.2,51.82 74.39,47.95" stroke-width="2.93" stroke-linejoin="round"/>
<polygon points="46.5,41.56 51.73,41 50.42,48.46 46.5,50.33 43.52,46.22" stroke-width="3.11" stroke-linejoin="round"/>
<polygon points="64.62,44.35 70.77,43.69 69.23,52.47 64.62,54.67 61.11,49.84" stroke-width="3.66" stroke-linejoin="round"/>
<polygon points="73.2,49.16 78.12,48.63 76.89,55.66 73.2,57.42 70.39,53.55" stroke-width="2.93" stroke-linejoin="round"/>
<polygon points="66.99,53.16 71.29,52.7 70.21,58.85 66.99,60.39 64.53,57.01" stroke-width="2.56" stroke-linejoin="round"/>
<polygon points="44.79,49.16 49.09,48.7 48.01,54.85 44.79,56.39 42.33,53.01" stroke-width="2.56" stroke-linejoin="round"/>
<polygon points="49.31,53.95 54.84,53.36 53.46,61.27 49.31,63.24 46.15,58.89" stroke-width="3.29" stroke-linejoin="round"/>
<polygon points="64.81,59.05 70.34,58.46 68.96,66.37 64.81,68.34 61.65,63.99" stroke-width="3.29" stroke-linejoin="round"/>
<polygon points="69.62,69.55 75.77,68.89 74.23,77.67 69.62,79.87 66.11,75.04" stroke-width="3.66" stroke-linejoin="round"/>
<polygon points="3.7,48.56 8.62,48.03 7.39,55.06 3.7,56.82 0.89,52.95" stroke-width="2.93" stroke-linejoin="round"/>
<polygon points="3.7,55.56 8.62,55.03 7.39,62.06 3.7,63.82 0.89,59.95" stroke-width="2.93" stroke-linejoin="round"/>
<polygon points="3.3,63.66 8.22,63.13 6.99,70.16 3.3,71.92 0.49,68.05" stroke-width="2.93" stroke-linejoin="round"/>
<polygon points="18.41,57.45 23.94,56.86 22.56,64.77 18.41,66.74 15.25,62.39" stroke-width="3.29" stroke-linejoin="round"/>
<polygon points="25.11,61.45 30.64,60.86 29.26,68.77 25.11,70.74 21.95,66.39" stroke-width="3.29" stroke-linejoin="round"/>
</g>
<g filter="url(#b0)">
<polygon points="15.04,-1.41 18.87,-1.82 17.91,3.65 15.04,5.02 12.86,2.01" fill="#f06408" stroke="#f06408" stroke-width="2.73" stroke-linejoin="round"/><polygon points="15.17,-0.64 18.14,-0.96 17.4,3.27 15.17,4.33 13.48,2" fill="url(#g3)" stroke="#fe881a" stroke-width="2.05" stroke-linejoin="round"/>
<polygon points="28.97,1.14 33.89,0.61 32.66,7.64 28.97,9.39 26.16,5.53" fill="#f06408" stroke="#f06408" stroke-width="3.51" stroke-linejoin="round"/><polygon points="29.14,2.11 32.95,1.71 32,7.15 29.14,8.51 26.96,5.52" fill="url(#g3)" stroke="#fe881a" stroke-width="2.64" stroke-linejoin="round"/>
<polygon points="38.21,-1.04 42.58,-1.5 41.49,4.74 38.21,6.3 35.71,2.87" fill="#ea5e06" stroke="#ea5e06" stroke-width="3.12" stroke-linejoin="round"/><polygon points="38.38,-0.08 41.66,-0.43 40.84,4.25 38.38,5.43 36.51,2.85" fill="url(#g2)" stroke="#fa7c12" stroke-width="2.34" stroke-linejoin="round"/>
<polygon points="63.82,-1.15 66.55,-1.44 65.87,2.46 63.82,3.44 62.26,1.29" fill="#ea5e06" stroke="#ea5e06" stroke-width="1.95" stroke-linejoin="round"/><polygon points="63.93,-0.55 65.98,-0.77 65.46,2.16 63.93,2.89 62.76,1.28" fill="url(#g2)" stroke="#fa7c12" stroke-width="1.46" stroke-linejoin="round"/>
<polygon points="15.91,7.56 20.28,7.1 19.19,13.34 15.91,14.9 13.41,11.47" fill="#ea5e06" stroke="#ea5e06" stroke-width="3.12" stroke-linejoin="round"/><polygon points="16.08,8.52 19.36,8.17 18.54,12.85 16.08,14.03 14.21,11.45" fill="url(#g2)" stroke="#fa7c12" stroke-width="2.34" stroke-linejoin="round"/>
<polygon points="21.97,9.14 26.89,8.61 25.66,15.64 21.97,17.39 19.16,13.53" fill="#ea5e06" stroke="#ea5e06" stroke-width="3.51" stroke-linejoin="round"/><polygon points="22.17,10.21 25.86,9.82 24.93,15.09 22.17,16.4 20.06,13.51" fill="url(#g2)" stroke="#fa7c12" stroke-width="2.64" stroke-linejoin="round"/>
<polygon points="10.18,12.42 13.46,12.07 12.64,16.76 10.18,17.93 8.31,15.35" fill="#da5404" stroke="#da5404" stroke-width="2.34" stroke-linejoin="round"/><polygon points="10.33,13.21 12.71,12.95 12.12,16.35 10.33,17.2 8.97,15.33" fill="url(#g1)" stroke="#ec6a0c" stroke-width="1.76" stroke-linejoin="round"/>
<polygon points="55.03,3.71 60.5,3.12 59.13,10.93 55.03,12.88 51.91,8.59" fill="#f26808" stroke="#f26808" stroke-width="3.9" stroke-linejoin="round"/><polygon points="55.12,4.47 59.76,3.97 58.6,10.61 55.12,12.27 52.46,8.62" fill="url(#g4)" stroke="#ff9426" stroke-width="2.93" stroke-linejoin="round"/>
<polygon points="49.88,10.22 55.96,9.57 54.44,18.26 49.88,20.43 46.4,15.65" fill="#f6760e" stroke="#f6760e" stroke-width="4.35" stroke-linejoin="round"/><polygon points="49.74,10.36 55.83,9.7 54.31,18.39 49.74,20.57 46.27,15.79" fill="url(#g5)" stroke="#ffbc6c" stroke-width="3.26" stroke-linejoin="round"/>
<polygon points="72.13,5.71 77.6,5.12 76.23,12.93 72.13,14.88 69.01,10.59" fill="#f06408" stroke="#f06408" stroke-width="3.9" stroke-linejoin="round"/><polygon points="72.32,6.79 76.55,6.34 75.5,12.39 72.32,13.9 69.9,10.58" fill="url(#g3)" stroke="#fe881a" stroke-width="2.93" stroke-linejoin="round"/>
<polygon points="48.81,20.19 55.18,19.51 53.59,28.61 48.81,30.89 45.17,25.88" fill="#f6760e" stroke="#f6760e" stroke-width="4.55" stroke-linejoin="round"/><polygon points="48.66,20.33 55.04,19.65 53.44,28.76 48.66,31.03 45.02,26.03" fill="url(#g5)" stroke="#ffbc6c" stroke-width="3.41" stroke-linejoin="round"/>
<polygon points="49.81,26.19 56.18,25.51 54.59,34.61 49.81,36.89 46.17,31.88" fill="#f6760e" stroke="#f6760e" stroke-width="4.55" stroke-linejoin="round"/><polygon points="49.66,26.33 56.04,25.65 54.44,34.76 49.66,37.03 46.02,32.03" fill="url(#g5)" stroke="#ffbc6c" stroke-width="3.41" stroke-linejoin="round"/>
<polygon points="50.62,32.38 56.13,31.79 54.75,39.65 50.62,41.61 47.48,37.29" fill="#f6760e" stroke="#f6760e" stroke-width="3.93" stroke-linejoin="round"/><polygon points="50.5,32.5 56.01,31.91 54.63,39.77 50.5,41.74 47.36,37.41" fill="url(#g5)" stroke="#ffbc6c" stroke-width="2.95" stroke-linejoin="round"/>
<polygon points="67.27,25.34 72.19,24.81 70.96,31.84 67.27,33.59 64.46,29.73" fill="#f06408" stroke="#f06408" stroke-width="3.51" stroke-linejoin="round"/><polygon points="67.44,26.31 71.25,25.91 70.3,31.35 67.44,32.71 65.26,29.72" fill="url(#g3)" stroke="#fe881a" stroke-width="2.64" stroke-linejoin="round"/>
<polygon points="70.77,28.34 75.69,27.81 74.46,34.84 70.77,36.59 67.96,32.73" fill="#f06408" stroke="#f06408" stroke-width="3.51" stroke-linejoin="round"/><polygon points="70.94,29.31 74.75,28.91 73.8,34.35 70.94,35.71 68.76,32.72" fill="url(#g3)" stroke="#fe881a" stroke-width="2.64" stroke-linejoin="round"/>
<polygon points="76.23,37.01 81.7,36.42 80.33,44.23 76.23,46.18 73.11,41.89" fill="#f06408" stroke="#f06408" stroke-width="3.9" stroke-linejoin="round"/><polygon points="76.42,38.09 80.65,37.64 79.6,43.69 76.42,45.2 74,41.88" fill="url(#g3)" stroke="#fe881a" stroke-width="2.93" stroke-linejoin="round"/>
<polygon points="74.41,44.96 78.78,44.5 77.69,50.74 74.41,52.3 71.91,48.87" fill="#ea5e06" stroke="#ea5e06" stroke-width="3.12" stroke-linejoin="round"/><polygon points="74.58,45.92 77.86,45.57 77.04,50.25 74.58,51.43 72.71,48.85" fill="url(#g2)" stroke="#fa7c12" stroke-width="2.34" stroke-linejoin="round"/>
<polygon points="43.54,43.05 48.18,42.55 47.02,49.19 43.54,50.85 40.88,47.2" fill="#f06408" stroke="#f06408" stroke-width="3.32" stroke-linejoin="round"/><polygon points="43.7,43.97 47.3,43.59 46.4,48.73 43.7,50.02 41.64,47.19" fill="url(#g3)" stroke="#fe881a" stroke-width="2.49" stroke-linejoin="round"/>
<polygon points="61.13,46.11 66.6,45.52 65.23,53.33 61.13,55.28 58.01,50.99" fill="#f26808" stroke="#f26808" stroke-width="3.9" stroke-linejoin="round"/><polygon points="61.22,46.87 65.86,46.37 64.7,53.01 61.22,54.67 58.56,51.02" fill="url(#g4)" stroke="#ff9426" stroke-width="2.93" stroke-linejoin="round"/>
<polygon points="70.41,50.56 74.78,50.1 73.69,56.34 70.41,57.9 67.91,54.47" fill="#ea5e06" stroke="#ea5e06" stroke-width="3.12" stroke-linejoin="round"/><polygon points="70.58,51.52 73.86,51.17 73.04,55.85 70.58,57.03 68.71,54.45" fill="url(#g2)" stroke="#fa7c12" stroke-width="2.34" stroke-linejoin="round"/>
<polygon points="64.54,54.39 68.37,53.98 67.41,59.45 64.54,60.82 62.36,57.81" fill="#ea5e06" stroke="#ea5e06" stroke-width="2.73" stroke-linejoin="round"/><polygon points="64.7,55.23 67.57,54.92 66.85,59.02 64.7,60.05 63.06,57.79" fill="url(#g2)" stroke="#fa7c12" stroke-width="2.05" stroke-linejoin="round"/>
<polygon points="42.34,50.39 46.17,49.98 45.21,55.45 42.34,56.82 40.16,53.81" fill="#ea5e06" stroke="#ea5e06" stroke-width="2.73" stroke-linejoin="round"/><polygon points="42.5,51.23 45.37,50.92 44.65,55.02 42.5,56.05 40.86,53.79" fill="url(#g2)" stroke="#fa7c12" stroke-width="2.05" stroke-linejoin="round"/>
<polygon points="46.17,55.54 51.09,55.01 49.86,62.04 46.17,63.79 43.36,59.93" fill="#f06408" stroke="#f06408" stroke-width="3.51" stroke-linejoin="round"/><polygon points="46.34,56.51 50.15,56.11 49.2,61.55 46.34,62.91 44.16,59.92" fill="url(#g3)" stroke="#fe881a" stroke-width="2.64" stroke-linejoin="round"/>
<polygon points="61.67,60.64 66.59,60.11 65.36,67.14 61.67,68.89 58.86,65.03" fill="#f06408" stroke="#f06408" stroke-width="3.51" stroke-linejoin="round"/><polygon points="61.84,61.61 65.65,61.21 64.7,66.65 61.84,68.01 59.66,65.02" fill="url(#g3)" stroke="#fe881a" stroke-width="2.64" stroke-linejoin="round"/>
<polygon points="66.13,71.31 71.6,70.72 70.23,78.53 66.13,80.48 63.01,76.19" fill="#f06408" stroke="#f06408" stroke-width="3.9" stroke-linejoin="round"/><polygon points="66.32,72.39 70.55,71.94 69.5,77.99 66.32,79.5 63.9,76.18" fill="url(#g3)" stroke="#fe881a" stroke-width="2.93" stroke-linejoin="round"/>
<polygon points="0.91,49.96 5.28,49.5 4.19,55.74 0.91,57.3 -1.59,53.87" fill="#f06408" stroke="#f06408" stroke-width="3.12" stroke-linejoin="round"/><polygon points="1.06,50.84 4.44,50.47 3.6,55.31 1.06,56.52 -0.88,53.86" fill="url(#g3)" stroke="#fe881a" stroke-width="2.34" stroke-linejoin="round"/>
<polygon points="0.91,56.96 5.28,56.5 4.19,62.74 0.91,64.3 -1.59,60.87" fill="#f06408" stroke="#f06408" stroke-width="3.12" stroke-linejoin="round"/><polygon points="1.06,57.84 4.44,57.47 3.6,62.31 1.06,63.52 -0.88,60.86" fill="url(#g3)" stroke="#fe881a" stroke-width="2.34" stroke-linejoin="round"/>
<polygon points="0.51,65.06 4.88,64.6 3.79,70.84 0.51,72.4 -1.99,68.97" fill="#f06408" stroke="#f06408" stroke-width="3.12" stroke-linejoin="round"/><polygon points="0.66,65.94 4.04,65.57 3.2,70.41 0.66,71.62 -1.28,68.96" fill="url(#g3)" stroke="#fe881a" stroke-width="2.34" stroke-linejoin="round"/>
<polygon points="15.27,59.04 20.19,58.51 18.96,65.54 15.27,67.29 12.46,63.43" fill="#f06408" stroke="#f06408" stroke-width="3.51" stroke-linejoin="round"/><polygon points="15.44,60.01 19.25,59.61 18.3,65.05 15.44,66.41 13.26,63.42" fill="url(#g3)" stroke="#fe881a" stroke-width="2.64" stroke-linejoin="round"/>
<polygon points="21.97,63.04 26.89,62.51 25.66,69.54 21.97,71.29 19.16,67.43" fill="#ea5e06" stroke="#ea5e06" stroke-width="3.51" stroke-linejoin="round"/><polygon points="22.17,64.11 25.86,63.72 24.93,68.99 22.17,70.3 20.06,67.41" fill="url(#g2)" stroke="#fa7c12" stroke-width="2.64" stroke-linejoin="round"/>
</g>
</g>
<rect x="39.2" y="50.5" width="15.7" height="16.9" fill="none" stroke="#f01414" stroke-width="1.35"/>
<text x="3.8" y="86.3" font-size="4.75" font-family="Liberation Sans, sans-serif" fill="#222" stroke="#222" stroke-width="0.12" textLength="29.2" lengthAdjust="spacingAndGlyphs">Height Sensor</text>
<rect x="62.2" y="81.5" width="16.2" height="1.0" fill="#222"/>
<text x="70.3" y="86.9" font-size="4.75" font-family="Liberation Sans, sans-serif" fill="#222" stroke="#222" stroke-width="0.12" text-anchor="middle">1.0 um</text>
<rect x="93.2" y="20.1" width="5.3" height="40.6" fill="url(#cb)" stroke="#777" stroke-width="0.6"/>
<text x="95.5" y="19.2" font-size="4.7" font-family="Liberation Sans, sans-serif" fill="#222" stroke="#222" stroke-width="0.12" text-anchor="middle">328.0 nm</text>
<text x="95" y="65.0" font-size="4.7" font-family="Liberation Sans, sans-serif" fill="#222" stroke="#222" stroke-width="0.12" text-anchor="middle">-226.7 nm</text>
<text x="-13.2" y="4" font-size="9.9"  font-weight="bold" font-family="Liberation Serif, serif" fill="#111" stroke="#111" stroke-width="0.25">(c)</text>
<rect x="-20.75" y="4.4" width="1.7" height="74" fill="#0a0a0a"/>
<polygon points="-19.9,81.4 -22.3,77.4 -17.5,77.4" fill="#111"/>
<text transform="translate(-13.3,17.6) rotate(90)" font-size="10.4" font-family="Liberation Serif, serif" fill="#111" stroke="#111" stroke-width="0.3" textLength="51" lengthAdjust="spacingAndGlyphs">2948 - 3203 s</text>
</g>
<g transform="translate(439.95,8.3)">
<g clip-path="url(#pc)">
<rect x="0" y="0" width="82" height="80" fill="#b83004"/>
<g filter="url(#b6)">
<ellipse cx="10" cy="12" rx="22" ry="13" fill="#6e1400" opacity="0.5"/>
<ellipse cx="40" cy="-3" rx="50" ry="5" fill="#4a0a00" opacity="0.7"/>
<ellipse cx="26" cy="40" rx="16" ry="10" fill="#d4480a" opacity="0.45"/>
<ellipse cx="60" cy="74" rx="22" ry="8" fill="#d84c0a" opacity="0.4"/>
</g>
<g filter="url(#b3)">
<ellipse cx="58" cy="32" rx="5" ry="12" fill="#2c0400" opacity="0.9"/>
<ellipse cx="50" cy="47" rx="6" ry="4" fill="#300400" opacity="0.9"/>
<ellipse cx="5" cy="40" rx="4" ry="14" fill="#400800" opacity="0.45"/>
<ellipse cx="62" cy="12" rx="4" ry="5" fill="#400800" opacity="0.6"/>
<ellipse cx="78" cy="34" rx="3" ry="6" fill="#300400" opacity="0.6"/>
<ellipse cx="28" cy="62" rx="6" ry="4" fill="#300400" opacity="0.5"/>
<ellipse cx="8" cy="66" rx="4" ry="5" fill="#300400" opacity="0.7"/>
<ellipse cx="48" cy="76" rx="22" ry="7" fill="#d44808" opacity="0.6"/>
<ellipse cx="26" cy="40" rx="12" ry="12" fill="#c63e06" opacity="0.4"/>
</g>
<g filter="url(#b2)" opacity="0.8">
<rect x="35" y="-2" width="3.5" height="84" fill="#500a00" opacity="0.5"/>
<rect x="10" y="-2" width="3" height="84" fill="#500a00" opacity="0.3"/>
<rect x="-2" y="22" width="85" height="3.5" fill="#500a00" opacity="0.35"/>
<rect x="-2" y="48" width="85" height="3" fill="#500a00" opacity="0.4"/>
<rect x="-2" y="62" width="85" height="2.5" fill="#500a00" opacity="0.25"/>
</g>
<rect x="0" y="0" width="82" height="80" filter="url(#nz)"/>
<rect x="0" y="0" width="82" height="80" filter="url(#nz2)"/>
<g filter="url(#b2)" fill="#200300" stroke="#200300" opacity="0.7">
<polygon points="16.94,-1.94 22.57,-2.54 21.16,5.5 16.94,7.51 13.73,3.09" stroke-width="3.35" stroke-linejoin="round"/>
<polygon points="30.36,1.85 36.61,1.18 35.04,10.11 30.36,12.34 26.79,7.43" stroke-width="3.72" stroke-linejoin="round"/>
<polygon points="39.24,0.46 44.87,-0.14 43.46,7.9 39.24,9.91 36.03,5.49" stroke-width="3.35" stroke-linejoin="round"/>
<polygon points="46.59,-1.69 50.34,-2.09 49.41,3.26 46.59,4.6 44.45,1.66" stroke-width="2.23" stroke-linejoin="round"/>
<polygon points="64.23,-2.52 69.23,-3.06 67.98,4.09 64.23,5.87 61.37,1.94" stroke-width="2.98" stroke-linejoin="round"/>
<polygon points="15.73,9.08 20.73,8.54 19.48,15.69 15.73,17.47 12.87,13.54" stroke-width="2.98" stroke-linejoin="round"/>
<polygon points="21.94,10.46 27.57,9.86 26.16,17.9 21.94,19.91 18.73,15.49" stroke-width="3.35" stroke-linejoin="round"/>
<polygon points="56.96,4.85 63.21,4.18 61.64,13.11 56.96,15.34 53.39,10.43" stroke-width="3.72" stroke-linejoin="round"/>
<polygon points="51.77,12.23 58.65,11.5 56.93,21.32 51.77,23.77 47.85,18.37" stroke-width="4.09" stroke-linejoin="round"/>
<polygon points="73.87,7.73 80.75,7 79.03,16.82 73.87,19.27 69.95,13.87" stroke-width="4.09" stroke-linejoin="round"/>
<polygon points="49.77,21.43 56.65,20.7 54.93,30.52 49.77,32.97 45.85,27.57" stroke-width="4.09" stroke-linejoin="round"/>
<polygon points="51.77,27.53 58.65,26.8 56.93,36.62 51.77,39.07 47.85,33.67" stroke-width="4.09" stroke-linejoin="round"/>
<polygon points="51.45,34.46 57.39,33.82 55.9,42.3 51.45,44.42 48.06,39.76" stroke-width="3.53" stroke-linejoin="round"/>
<polygon points="67.94,26.66 73.57,26.06 72.16,34.1 67.94,36.11 64.73,31.69" stroke-width="3.35" stroke-linejoin="round"/>
<polygon points="71.94,30.36 77.57,29.76 76.16,37.8 71.94,39.81 68.73,35.39" stroke-width="3.35" stroke-linejoin="round"/>
<polygon points="77.37,37.53 84.25,36.8 82.53,46.62 77.37,49.07 73.45,43.67" stroke-width="4.09" stroke-linejoin="round"/>
<polygon points="75.23,46.48 80.23,45.94 78.98,53.09 75.23,54.87 72.37,50.94" stroke-width="2.98" stroke-linejoin="round"/>
<polygon points="43.94,45.26 49.57,44.66 48.16,52.7 43.94,54.71 40.73,50.29" stroke-width="3.35" stroke-linejoin="round"/>
<polygon points="62.56,48.25 68.81,47.58 67.24,56.51 62.56,58.74 58.99,53.83" stroke-width="3.72" stroke-linejoin="round"/>
<polygon points="71.44,52.46 77.07,51.86 75.66,59.9 71.44,61.91 68.23,57.49" stroke-width="3.35" stroke-linejoin="round"/>
<polygon points="65.01,57.19 69.39,56.73 68.29,62.98 65.01,64.54 62.51,61.1" stroke-width="2.6" stroke-linejoin="round"/>
<polygon points="41.59,55.11 45.34,54.71 44.41,60.06 41.59,61.4 39.45,58.46" stroke-width="2.23" stroke-linejoin="round"/>
<polygon points="46.64,58.46 52.27,57.86 50.86,65.9 46.64,67.91 43.43,63.49" stroke-width="3.35" stroke-linejoin="round"/>
<polygon points="62.34,62.96 67.97,62.36 66.56,70.4 62.34,72.41 59.13,67.99" stroke-width="3.35" stroke-linejoin="round"/>
<polygon points="67.44,72.06 73.07,71.46 71.66,79.5 67.44,81.51 64.23,77.09" stroke-width="3.35" stroke-linejoin="round"/>
<polygon points="2.73,53.48 7.73,52.94 6.48,60.09 2.73,61.87 -0.13,57.94" stroke-width="2.98" stroke-linejoin="round"/>
<polygon points="2.73,60.58 7.73,60.04 6.48,67.19 2.73,68.97 -0.13,65.04" stroke-width="2.98" stroke-linejoin="round"/>
<polygon points="2.33,68.58 7.33,68.04 6.08,75.19 2.33,76.97 -0.53,73.04" stroke-width="2.98" stroke-linejoin="round"/>
<polygon points="16.44,61.36 22.07,60.76 20.66,68.8 16.44,70.81 13.23,66.39" stroke-width="3.35" stroke-linejoin="round"/>
<polygon points="23.14,64.96 28.77,64.36 27.36,72.4 23.14,74.41 19.93,69.99" stroke-width="3.35" stroke-linejoin="round"/>
</g>
<g filter="url(#b0)">
<polygon points="13.75,-0.33 18.75,-0.86 17.5,6.28 13.75,8.06 10.89,4.14" fill="#f06408" stroke="#f06408" stroke-width="3.57" stroke-linejoin="round"/><polygon points="13.92,0.67 17.79,0.25 16.83,5.79 13.92,7.17 11.71,4.13" fill="url(#g3)" stroke="#fe881a" stroke-width="2.68" stroke-linejoin="round"/>
<polygon points="26.81,3.64 32.37,3.04 30.98,10.98 26.81,12.96 23.64,8.6" fill="#f06408" stroke="#f06408" stroke-width="3.97" stroke-linejoin="round"/><polygon points="27,4.74 31.3,4.28 30.23,10.43 27,11.97 24.54,8.59" fill="url(#g3)" stroke="#fe881a" stroke-width="2.98" stroke-linejoin="round"/>
<polygon points="36.05,2.07 41.05,1.54 39.8,8.68 36.05,10.46 33.19,6.54" fill="#ea5e06" stroke="#ea5e06" stroke-width="3.57" stroke-linejoin="round"/><polygon points="36.25,3.17 40,2.76 39.06,8.12 36.25,9.46 34.11,6.51" fill="url(#g2)" stroke="#fa7c12" stroke-width="2.68" stroke-linejoin="round"/>
<polygon points="44.47,-0.62 47.8,-0.98 46.97,3.79 44.47,4.98 42.56,2.36" fill="#ea5e06" stroke="#ea5e06" stroke-width="2.38" stroke-linejoin="round"/><polygon points="44.6,0.11 47.1,-0.16 46.48,3.41 44.6,4.31 43.17,2.34" fill="url(#g2)" stroke="#fa7c12" stroke-width="1.79" stroke-linejoin="round"/>
<polygon points="61.39,-1.09 65.83,-1.57 64.72,4.78 61.39,6.37 58.85,2.88" fill="#f06408" stroke="#f06408" stroke-width="3.17" stroke-linejoin="round"/><polygon points="61.54,-0.21 64.98,-0.58 64.12,4.34 61.54,5.57 59.57,2.87" fill="url(#g3)" stroke="#fe881a" stroke-width="2.38" stroke-linejoin="round"/>
<polygon points="12.89,10.51 17.33,10.03 16.22,16.38 12.89,17.97 10.35,14.48" fill="#ea5e06" stroke="#ea5e06" stroke-width="3.17" stroke-linejoin="round"/><polygon points="13.07,11.48 16.4,11.12 15.57,15.88 13.07,17.08 11.16,14.46" fill="url(#g2)" stroke="#fa7c12" stroke-width="2.38" stroke-linejoin="round"/>
<polygon points="18.75,12.07 23.75,11.54 22.5,18.68 18.75,20.46 15.89,16.54" fill="#ea5e06" stroke="#ea5e06" stroke-width="3.57" stroke-linejoin="round"/><polygon points="18.95,13.17 22.7,12.76 21.76,18.12 18.95,19.46 16.81,16.51" fill="url(#g2)" stroke="#fa7c12" stroke-width="2.68" stroke-linejoin="round"/>
<polygon points="7.17,15.38 10.5,15.02 9.67,19.79 7.17,20.98 5.26,18.36" fill="#da5404" stroke="#da5404" stroke-width="2.38" stroke-linejoin="round"/><polygon points="7.32,16.18 9.74,15.92 9.13,19.37 7.32,20.23 5.94,18.33" fill="url(#g1)" stroke="#ec6a0c" stroke-width="1.79" stroke-linejoin="round"/>
<polygon points="53.41,6.64 58.97,6.04 57.58,13.98 53.41,15.96 50.24,11.6" fill="#f26808" stroke="#f26808" stroke-width="3.97" stroke-linejoin="round"/><polygon points="53.5,7.41 58.22,6.91 57.04,13.65 53.5,15.34 50.8,11.63" fill="url(#g4)" stroke="#ff9426" stroke-width="2.98" stroke-linejoin="round"/>
<polygon points="47.78,13.91 54.26,13.22 52.64,22.47 47.78,24.78 44.08,19.69" fill="#f6760e" stroke="#f6760e" stroke-width="4.63" stroke-linejoin="round"/><polygon points="47.64,14.06 54.11,13.36 52.49,22.61 47.64,24.93 43.93,19.84" fill="url(#g5)" stroke="#ffbc6c" stroke-width="3.47" stroke-linejoin="round"/>
<polygon points="69.97,9.7 76.08,9.04 74.56,17.77 69.97,19.96 66.48,15.15" fill="#f06408" stroke="#f06408" stroke-width="4.36" stroke-linejoin="round"/><polygon points="70.18,10.92 74.92,10.41 73.73,17.17 70.18,18.86 67.47,15.14" fill="url(#g3)" stroke="#fe881a" stroke-width="3.27" stroke-linejoin="round"/>
<polygon points="45.78,23.11 52.26,22.42 50.64,31.67 45.78,33.98 42.08,28.89" fill="#f6760e" stroke="#f6760e" stroke-width="4.63" stroke-linejoin="round"/><polygon points="45.64,23.26 52.11,22.56 50.49,31.81 45.64,34.13 41.93,29.04" fill="url(#g5)" stroke="#ffbc6c" stroke-width="3.47" stroke-linejoin="round"/>
<polygon points="47.78,29.21 54.26,28.52 52.64,37.77 47.78,40.08 44.08,34.99" fill="#f6760e" stroke="#f6760e" stroke-width="4.63" stroke-linejoin="round"/><polygon points="47.64,29.36 54.11,28.66 52.49,37.91 47.64,40.23 43.93,35.14" fill="url(#g5)" stroke="#ffbc6c" stroke-width="3.47" stroke-linejoin="round"/>
<polygon points="48,35.9 53.6,35.31 52.2,43.3 48,45.29 44.8,40.9" fill="#f6760e" stroke="#f6760e" stroke-width="4" stroke-linejoin="round"/><polygon points="47.88,36.03 53.47,35.43 52.07,43.42 47.88,45.42 44.68,41.02" fill="url(#g5)" stroke="#ffbc6c" stroke-width="3" stroke-linejoin="round"/>
<polygon points="64.75,28.27 69.75,27.74 68.5,34.88 64.75,36.66 61.89,32.74" fill="#f06408" stroke="#f06408" stroke-width="3.57" stroke-linejoin="round"/><polygon points="64.92,29.27 68.79,28.85 67.83,34.39 64.92,35.77 62.71,32.73" fill="url(#g3)" stroke="#fe881a" stroke-width="2.68" stroke-linejoin="round"/>
<polygon points="68.75,31.97 73.75,31.44 72.5,38.58 68.75,40.36 65.89,36.44" fill="#f06408" stroke="#f06408" stroke-width="3.57" stroke-linejoin="round"/><polygon points="68.92,32.97 72.79,32.55 71.83,38.09 68.92,39.47 66.71,36.43" fill="url(#g3)" stroke="#fe881a" stroke-width="2.68" stroke-linejoin="round"/>
<polygon points="73.47,39.5 79.58,38.84 78.06,47.57 73.47,49.76 69.98,44.95" fill="#f06408" stroke="#f06408" stroke-width="4.36" stroke-linejoin="round"/><polygon points="73.68,40.72 78.42,40.21 77.23,46.97 73.68,48.66 70.97,44.94" fill="url(#g3)" stroke="#fe881a" stroke-width="3.27" stroke-linejoin="round"/>
<polygon points="72.39,47.91 76.83,47.43 75.72,53.78 72.39,55.37 69.85,51.88" fill="#ea5e06" stroke="#ea5e06" stroke-width="3.17" stroke-linejoin="round"/><polygon points="72.57,48.88 75.9,48.52 75.07,53.28 72.57,54.48 70.66,51.86" fill="url(#g2)" stroke="#fa7c12" stroke-width="2.38" stroke-linejoin="round"/>
<polygon points="40.75,46.87 45.75,46.34 44.5,53.48 40.75,55.26 37.89,51.34" fill="#f06408" stroke="#f06408" stroke-width="3.57" stroke-linejoin="round"/><polygon points="40.92,47.87 44.79,47.45 43.83,52.99 40.92,54.37 38.71,51.33" fill="url(#g3)" stroke="#fe881a" stroke-width="2.68" stroke-linejoin="round"/>
<polygon points="59.01,50.04 64.57,49.44 63.18,57.38 59.01,59.36 55.84,55" fill="#f26808" stroke="#f26808" stroke-width="3.97" stroke-linejoin="round"/><polygon points="59.1,50.81 63.82,50.31 62.64,57.05 59.1,58.74 56.4,55.03" fill="url(#g4)" stroke="#ff9426" stroke-width="2.98" stroke-linejoin="round"/>
<polygon points="68.25,54.07 73.25,53.54 72,60.68 68.25,62.46 65.39,58.54" fill="#ea5e06" stroke="#ea5e06" stroke-width="3.57" stroke-linejoin="round"/><polygon points="68.45,55.17 72.2,54.76 71.26,60.12 68.45,61.46 66.31,58.51" fill="url(#g2)" stroke="#fa7c12" stroke-width="2.68" stroke-linejoin="round"/>
<polygon points="62.53,58.44 66.42,58.03 65.44,63.58 62.53,64.97 60.31,61.92" fill="#ea5e06" stroke="#ea5e06" stroke-width="2.78" stroke-linejoin="round"/><polygon points="62.68,59.3 65.6,58.98 64.87,63.15 62.68,64.19 61.02,61.9" fill="url(#g2)" stroke="#fa7c12" stroke-width="2.08" stroke-linejoin="round"/>
<polygon points="39.47,56.18 42.8,55.82 41.97,60.59 39.47,61.78 37.56,59.16" fill="#ea5e06" stroke="#ea5e06" stroke-width="2.38" stroke-linejoin="round"/><polygon points="39.6,56.91 42.1,56.64 41.48,60.21 39.6,61.11 38.17,59.14" fill="url(#g2)" stroke="#fa7c12" stroke-width="1.79" stroke-linejoin="round"/>
<polygon points="43.45,60.07 48.45,59.54 47.2,66.68 43.45,68.46 40.59,64.54" fill="#f06408" stroke="#f06408" stroke-width="3.57" stroke-linejoin="round"/><polygon points="43.62,61.07 47.49,60.65 46.53,66.19 43.62,67.57 41.41,64.53" fill="url(#g3)" stroke="#fe881a" stroke-width="2.68" stroke-linejoin="round"/>
<polygon points="59.15,64.57 64.15,64.04 62.9,71.18 59.15,72.96 56.29,69.04" fill="#f06408" stroke="#f06408" stroke-width="3.57" stroke-linejoin="round"/><polygon points="59.32,65.57 63.19,65.15 62.23,70.69 59.32,72.07 57.11,69.03" fill="url(#g3)" stroke="#fe881a" stroke-width="2.68" stroke-linejoin="round"/>
<polygon points="64.25,73.67 69.25,73.14 68,80.28 64.25,82.06 61.39,78.14" fill="#f06408" stroke="#f06408" stroke-width="3.57" stroke-linejoin="round"/><polygon points="64.42,74.67 68.29,74.25 67.33,79.79 64.42,81.17 62.21,78.13" fill="url(#g3)" stroke="#fe881a" stroke-width="2.68" stroke-linejoin="round"/>
<polygon points="-0.11,54.91 4.33,54.43 3.22,60.78 -0.11,62.37 -2.65,58.88" fill="#f06408" stroke="#f06408" stroke-width="3.17" stroke-linejoin="round"/><polygon points="0.04,55.79 3.48,55.42 2.62,60.34 0.04,61.57 -1.93,58.87" fill="url(#g3)" stroke="#fe881a" stroke-width="2.38" stroke-linejoin="round"/>
<polygon points="-0.11,62.01 4.33,61.53 3.22,67.88 -0.11,69.47 -2.65,65.98" fill="#f06408" stroke="#f06408" stroke-width="3.17" stroke-linejoin="round"/><polygon points="0.04,62.89 3.48,62.52 2.62,67.44 0.04,68.67 -1.93,65.97" fill="url(#g3)" stroke="#fe881a" stroke-width="2.38" stroke-linejoin="round"/>
<polygon points="-0.51,70.01 3.93,69.53 2.82,75.88 -0.51,77.47 -3.05,73.98" fill="#f06408" stroke="#f06408" stroke-width="3.17" stroke-linejoin="round"/><polygon points="-0.36,70.89 3.08,70.52 2.22,75.44 -0.36,76.67 -2.33,73.97" fill="url(#g3)" stroke="#fe881a" stroke-width="2.38" stroke-linejoin="round"/>
<polygon points="13.25,62.97 18.25,62.44 17,69.58 13.25,71.36 10.39,67.44" fill="#f06408" stroke="#f06408" stroke-width="3.57" stroke-linejoin="round"/><polygon points="13.42,63.97 17.29,63.55 16.33,69.09 13.42,70.47 11.21,67.43" fill="url(#g3)" stroke="#fe881a" stroke-width="2.68" stroke-linejoin="round"/>
<polygon points="19.95,66.57 24.95,66.04 23.7,73.18 19.95,74.96 17.09,71.04" fill="#ea5e06" stroke="#ea5e06" stroke-width="3.57" stroke-linejoin="round"/><polygon points="20.15,67.67 23.9,67.26 22.96,72.62 20.15,73.96 18.01,71.01" fill="url(#g2)" stroke="#fa7c12" stroke-width="2.68" stroke-linejoin="round"/>
<polygon points="13.17,74.98 16.5,74.62 15.67,79.39 13.17,80.58 11.26,77.96" fill="#da5404" stroke="#da5404" stroke-width="2.38" stroke-linejoin="round"/><polygon points="13.32,75.78 15.74,75.52 15.13,78.97 13.32,79.83 11.94,77.93" fill="url(#g1)" stroke="#ec6a0c" stroke-width="1.79" stroke-linejoin="round"/>
</g>
</g>
<rect x="35.8" y="57.5" width="18.1" height="13.5" fill="none" stroke="#f01414" stroke-width="1.35"/>
<text x="3.8" y="86.3" font-size="4.75" font-family="Liberation Sans, sans-serif" fill="#222" stroke="#222" stroke-width="0.12" textLength="29.2" lengthAdjust="spacingAndGlyphs">Height Sensor</text>
<rect x="62.2" y="81.5" width="16.2" height="1.0" fill="#222"/>
<text x="70.3" y="86.9" font-size="4.75" font-family="Liberation Sans, sans-serif" fill="#222" stroke="#222" stroke-width="0.12" text-anchor="middle">1.0 um</text>
<rect x="93.2" y="20.1" width="5.3" height="40.6" fill="url(#cb)" stroke="#777" stroke-width="0.6"/>
<text x="95.5" y="19.2" font-size="4.7" font-family="Liberation Sans, sans-serif" fill="#222" stroke="#222" stroke-width="0.12" text-anchor="middle">351.0 nm</text>
<text x="95" y="65.0" font-size="4.7" font-family="Liberation Sans, sans-serif" fill="#222" stroke="#222" stroke-width="0.12" text-anchor="middle">-246.9 nm</text>
<text x="-13.2" y="4" font-size="9.9"  font-weight="bold" font-family="Liberation Serif, serif" fill="#111" stroke="#111" stroke-width="0.25">(d)</text>
<rect x="-20.7" y="4.4" width="1.7" height="74" fill="#0a0a0a"/>
<polygon points="-19.85,81.4 -22.25,77.4 -17.45,77.4" fill="#111"/>
<text transform="translate(-13.25,15.4) rotate(90)" font-size="10.4" font-family="Liberation Serif, serif" fill="#111" stroke="#111" stroke-width="0.3" textLength="54" lengthAdjust="spacingAndGlyphs">3487 – 3742 s</text>
</g>
<g transform="translate(27.9,100.8)">
<g clip-path="url(#pc)">
<rect x="0" y="0" width="82" height="80" fill="#bc3204"/>
<g filter="url(#b6)">
<ellipse cx="10" cy="12" rx="22" ry="13" fill="#6e1400" opacity="0.5"/>
<ellipse cx="40" cy="-3" rx="50" ry="5" fill="#4a0a00" opacity="0.7"/>
<ellipse cx="26" cy="40" rx="16" ry="10" fill="#d4480a" opacity="0.45"/>
<ellipse cx="60" cy="74" rx="22" ry="8" fill="#d84c0a" opacity="0.4"/>
</g>
<g filter="url(#b3)">
<rect x="-5" y="-5" width="91" height="6" fill="#3a0800" opacity="0.6"/>
<ellipse cx="56" cy="36" rx="7" ry="5" fill="#300400" opacity="0.9"/>
<ellipse cx="63" cy="20" rx="5" ry="9" fill="#300400" opacity="0.7"/>
<ellipse cx="12" cy="53" rx="6" ry="5" fill="#300400" opacity="0.85"/>
<ellipse cx="67" cy="8" rx="5" ry="5" fill="#400800" opacity="0.6"/>
<ellipse cx="79" cy="30" rx="4" ry="5" fill="#300400" opacity="0.6"/>
<ellipse cx="55" cy="72" rx="26" ry="10" fill="#d44808" opacity="0.6"/>
<ellipse cx="25" cy="74" rx="18" ry="7" fill="#c84006" opacity="0.5"/>
<ellipse cx="25" cy="30" rx="14" ry="12" fill="#c63e06" opacity="0.4"/>
</g>
<g filter="url(#b2)" opacity="0.8">
<rect x="37" y="-2" width="3.5" height="84" fill="#500a00" opacity="0.5"/>
<rect x="15" y="-2" width="3" height="84" fill="#500a00" opacity="0.35"/>
<rect x="58" y="-2" width="3" height="84" fill="#500a00" opacity="0.25"/>
<rect x="-2" y="20" width="85" height="3.5" fill="#500a00" opacity="0.4"/>
<rect x="-2" y="38" width="85" height="3" fill="#500a00" opacity="0.4"/>
<rect x="-2" y="50" width="85" height="2.5" fill="#500a00" opacity="0.25"/>
</g>
<rect x="0" y="0" width="82" height="80" filter="url(#nz)"/>
<rect x="0" y="0" width="82" height="80" filter="url(#nz2)"/>
<g filter="url(#b2)" fill="#200300" stroke="#200300" opacity="0.7">
<polygon points="39.17,-3.31 33.6,-0.86 32.26,1.52 36.42,4.49 38.65,1.67" stroke-width="2.48" stroke-linejoin="round"/>
<polygon points="24.83,0.38 18.45,3.19 16.92,5.91 21.68,9.3 24.23,6.08" stroke-width="2.83" stroke-linejoin="round"/>
<polygon points="32.03,1.38 25.65,4.19 24.12,6.91 28.88,10.3 31.43,7.08" stroke-width="2.83" stroke-linejoin="round"/>
<polygon points="66.08,-1.92 58.91,1.24 57.19,4.29 62.54,8.12 65.41,4.48" stroke-width="3.19" stroke-linejoin="round"/>
<polygon points="62.1,3.33 54.54,6.66 52.72,9.89 58.37,13.92 61.4,10.09" stroke-width="3.36" stroke-linejoin="round"/>
<polygon points="84.28,-1.32 77.11,1.84 75.39,4.89 80.74,8.72 83.61,5.08" stroke-width="3.19" stroke-linejoin="round"/>
<polygon points="62.1,12.33 54.54,15.66 52.72,18.89 58.37,22.92 61.4,19.09" stroke-width="3.36" stroke-linejoin="round"/>
<polygon points="62.5,17.53 54.94,20.86 53.12,24.09 58.77,28.12 61.8,24.29" stroke-width="3.36" stroke-linejoin="round"/>
<polygon points="62.48,22.88 55.31,26.04 53.59,29.09 58.94,32.92 61.81,29.28" stroke-width="3.19" stroke-linejoin="round"/>
<polygon points="78.33,17.58 71.95,20.39 70.42,23.11 75.18,26.5 77.73,23.28" stroke-width="2.83" stroke-linejoin="round"/>
<polygon points="82.33,20.18 75.95,22.99 74.42,25.71 79.18,29.1 81.73,25.88" stroke-width="2.83" stroke-linejoin="round"/>
<polygon points="86.68,28.98 79.51,32.14 77.79,35.19 83.14,39.02 86.01,35.38" stroke-width="3.19" stroke-linejoin="round"/>
<polygon points="81.47,40.39 75.9,42.84 74.56,45.22 78.72,48.19 80.95,45.37" stroke-width="2.48" stroke-linejoin="round"/>
<polygon points="55.68,33.98 48.51,37.14 46.79,40.19 52.14,44.02 55.01,40.38" stroke-width="3.19" stroke-linejoin="round"/>
<polygon points="75.03,35.68 67.07,39.18 65.15,42.58 71.1,46.83 74.29,42.79" stroke-width="3.54" stroke-linejoin="round"/>
<polygon points="74.62,44.19 69.84,46.29 68.69,48.33 72.26,50.88 74.17,48.46" stroke-width="2.12" stroke-linejoin="round"/>
<polygon points="57.68,45.68 50.51,48.84 48.79,51.89 54.14,55.72 57.01,52.08" stroke-width="3.19" stroke-linejoin="round"/>
<polygon points="73.68,50.08 66.51,53.24 64.79,56.29 70.14,60.12 73.01,56.48" stroke-width="3.19" stroke-linejoin="round"/>
<polygon points="78.68,61.18 71.51,64.34 69.79,67.39 75.14,71.22 78.01,67.58" stroke-width="3.19" stroke-linejoin="round"/>
<polygon points="11.23,41.78 4.85,44.59 3.32,47.31 8.08,50.7 10.63,47.48" stroke-width="2.83" stroke-linejoin="round"/>
<polygon points="11.83,48.78 5.45,51.59 3.92,54.31 8.68,57.7 11.23,54.48" stroke-width="2.83" stroke-linejoin="round"/>
<polygon points="10.83,54.78 4.45,57.59 2.92,60.31 7.68,63.7 10.23,60.48" stroke-width="2.83" stroke-linejoin="round"/>
<polygon points="9.57,72.69 4,75.14 2.66,77.52 6.82,80.49 9.05,77.67" stroke-width="2.48" stroke-linejoin="round"/>
<polygon points="27.17,49.89 21.6,52.34 20.26,54.72 24.42,57.69 26.65,54.87" stroke-width="2.48" stroke-linejoin="round"/>
<polygon points="34.88,52.08 27.71,55.24 25.99,58.29 31.34,62.12 34.21,58.48" stroke-width="3.19" stroke-linejoin="round"/>
</g>
<g filter="url(#b0)">
<polygon points="36.31,-2.03 31.35,0.15 30.16,2.26 33.86,4.9 35.84,2.39" fill="#f06408" stroke="#f06408" stroke-width="2.64" stroke-linejoin="round"/><polygon points="35.52,-1.13 31.68,0.56 30.76,2.19 33.63,4.24 35.17,2.3" fill="url(#g3)" stroke="#fe881a" stroke-width="1.98" stroke-linejoin="round"/>
<polygon points="21.55,1.85 15.89,4.34 14.53,6.76 18.76,9.78 21.02,6.91" fill="#ea5e06" stroke="#ea5e06" stroke-width="3.02" stroke-linejoin="round"/><polygon points="20.57,2.98 16.32,4.85 15.3,6.66 18.47,8.93 20.17,6.77" fill="url(#g2)" stroke="#fa7c12" stroke-width="2.27" stroke-linejoin="round"/>
<polygon points="28.75,2.85 23.09,5.34 21.73,7.76 25.96,10.78 28.22,7.91" fill="#ea5e06" stroke="#ea5e06" stroke-width="3.02" stroke-linejoin="round"/><polygon points="27.77,3.98 23.52,5.85 22.5,7.66 25.67,9.93 27.37,7.77" fill="url(#g2)" stroke="#fa7c12" stroke-width="2.27" stroke-linejoin="round"/>
<polygon points="17.66,6.88 13.41,8.75 12.39,10.57 15.57,12.83 17.27,10.68" fill="#da5404" stroke="#da5404" stroke-width="2.27" stroke-linejoin="round"/><polygon points="16.86,7.81 13.78,9.17 13.04,10.48 15.34,12.12 16.57,10.56" fill="url(#g1)" stroke="#ec6a0c" stroke-width="1.7" stroke-linejoin="round"/>
<polygon points="62.39,-0.27 56.02,2.53 54.49,5.25 59.25,8.65 61.8,5.42" fill="#f06408" stroke="#f06408" stroke-width="3.4" stroke-linejoin="round"/><polygon points="61.39,0.88 56.45,3.06 55.26,5.16 58.95,7.8 60.93,5.3" fill="url(#g3)" stroke="#fe881a" stroke-width="2.55" stroke-linejoin="round"/>
<polygon points="58.21,5.07 51.49,8.03 49.87,10.9 54.9,14.48 57.59,11.08" fill="#f26808" stroke="#f26808" stroke-width="3.59" stroke-linejoin="round"/><polygon points="57.47,5.92 51.75,8.44 50.38,10.87 54.65,13.92 56.94,11.03" fill="url(#g4)" stroke="#ff9426" stroke-width="2.69" stroke-linejoin="round"/>
<polygon points="80.59,0.33 74.22,3.13 72.69,5.85 77.45,9.25 80,6.02" fill="#f06408" stroke="#f06408" stroke-width="3.4" stroke-linejoin="round"/><polygon points="79.59,1.48 74.65,3.66 73.46,5.76 77.15,8.4 79.13,5.9" fill="url(#g3)" stroke="#fe881a" stroke-width="2.55" stroke-linejoin="round"/>
<polygon points="58.47,13.77 51.34,16.91 49.63,19.95 54.95,23.75 57.8,20.14" fill="#f6760e" stroke="#f6760e" stroke-width="3.8" stroke-linejoin="round"/><polygon points="58.35,13.89 51.22,17.03 49.51,20.07 54.83,23.87 57.68,20.26" fill="url(#g5)" stroke="#ffbc6c" stroke-width="2.85" stroke-linejoin="round"/>
<polygon points="58.87,18.97 51.74,22.11 50.03,25.15 55.35,28.95 58.2,25.34" fill="#f6760e" stroke="#f6760e" stroke-width="3.8" stroke-linejoin="round"/><polygon points="58.75,19.09 51.62,22.23 49.91,25.27 55.23,29.07 58.08,25.46" fill="url(#g5)" stroke="#ffbc6c" stroke-width="2.85" stroke-linejoin="round"/>
<polygon points="59.03,24.25 52.28,27.22 50.66,30.1 55.7,33.7 58.4,30.28" fill="#f6760e" stroke="#f6760e" stroke-width="3.6" stroke-linejoin="round"/><polygon points="58.92,24.36 52.17,27.33 50.54,30.21 55.59,33.82 58.29,30.39" fill="url(#g5)" stroke="#ffbc6c" stroke-width="2.7" stroke-linejoin="round"/>
<polygon points="75.05,19.05 69.39,21.54 68.03,23.96 72.26,26.98 74.52,24.11" fill="#f06408" stroke="#f06408" stroke-width="3.02" stroke-linejoin="round"/><polygon points="74.16,20.08 69.77,22.01 68.71,23.88 71.99,26.22 73.75,24" fill="url(#g3)" stroke="#fe881a" stroke-width="2.27" stroke-linejoin="round"/>
<polygon points="79.05,21.65 73.39,24.14 72.03,26.56 76.26,29.58 78.52,26.71" fill="#f06408" stroke="#f06408" stroke-width="3.02" stroke-linejoin="round"/><polygon points="78.16,22.68 73.77,24.61 72.71,26.48 75.99,28.82 77.75,26.6" fill="url(#g3)" stroke="#fe881a" stroke-width="2.27" stroke-linejoin="round"/>
<polygon points="82.99,30.63 76.62,33.43 75.09,36.15 79.85,39.55 82.4,36.32" fill="#f06408" stroke="#f06408" stroke-width="3.4" stroke-linejoin="round"/><polygon points="81.99,31.78 77.05,33.96 75.86,36.06 79.55,38.7 81.53,36.2" fill="url(#g3)" stroke="#fe881a" stroke-width="2.55" stroke-linejoin="round"/>
<polygon points="78.61,41.67 73.65,43.85 72.46,45.96 76.16,48.6 78.14,46.09" fill="#ea5e06" stroke="#ea5e06" stroke-width="2.64" stroke-linejoin="round"/><polygon points="77.75,42.66 74.03,44.29 73.14,45.88 75.91,47.86 77.4,45.98" fill="url(#g2)" stroke="#fa7c12" stroke-width="1.98" stroke-linejoin="round"/>
<polygon points="51.99,35.63 45.62,38.43 44.09,41.15 48.85,44.55 51.4,41.32" fill="#f06408" stroke="#f06408" stroke-width="3.4" stroke-linejoin="round"/><polygon points="50.99,36.78 46.05,38.96 44.86,41.06 48.55,43.7 50.53,41.2" fill="url(#g3)" stroke="#fe881a" stroke-width="2.55" stroke-linejoin="round"/>
<polygon points="70.94,37.51 63.86,40.62 62.16,43.64 67.44,47.42 70.28,43.83" fill="#f26808" stroke="#f26808" stroke-width="3.78" stroke-linejoin="round"/><polygon points="70.15,38.4 64.14,41.05 62.69,43.62 67.18,46.83 69.59,43.78" fill="url(#g4)" stroke="#ff9426" stroke-width="2.83" stroke-linejoin="round"/>
<polygon points="72.16,45.28 67.91,47.15 66.89,48.97 70.07,51.23 71.77,49.08" fill="#ea5e06" stroke="#ea5e06" stroke-width="2.27" stroke-linejoin="round"/><polygon points="71.43,46.13 68.24,47.54 67.48,48.9 69.85,50.59 71.13,48.98" fill="url(#g2)" stroke="#fa7c12" stroke-width="1.7" stroke-linejoin="round"/>
<polygon points="53.99,47.33 47.62,50.13 46.09,52.85 50.85,56.25 53.4,53.02" fill="#f06408" stroke="#f06408" stroke-width="3.4" stroke-linejoin="round"/><polygon points="52.99,48.48 48.05,50.66 46.86,52.76 50.55,55.4 52.53,52.9" fill="url(#g3)" stroke="#fe881a" stroke-width="2.55" stroke-linejoin="round"/>
<polygon points="69.99,51.73 63.62,54.53 62.09,57.25 66.85,60.65 69.4,57.42" fill="#f06408" stroke="#f06408" stroke-width="3.4" stroke-linejoin="round"/><polygon points="68.99,52.88 64.05,55.06 62.86,57.16 66.55,59.8 68.53,57.3" fill="url(#g3)" stroke="#fe881a" stroke-width="2.55" stroke-linejoin="round"/>
<polygon points="74.99,62.83 68.62,65.63 67.09,68.35 71.85,71.75 74.4,68.52" fill="#f06408" stroke="#f06408" stroke-width="3.4" stroke-linejoin="round"/><polygon points="73.99,63.98 69.05,66.16 67.86,68.26 71.55,70.9 73.53,68.4" fill="url(#g3)" stroke="#fe881a" stroke-width="2.55" stroke-linejoin="round"/>
<polygon points="7.95,43.25 2.29,45.74 0.93,48.16 5.16,51.18 7.42,48.31" fill="#f06408" stroke="#f06408" stroke-width="3.02" stroke-linejoin="round"/><polygon points="7.06,44.28 2.67,46.21 1.61,48.08 4.89,50.42 6.65,48.2" fill="url(#g3)" stroke="#fe881a" stroke-width="2.27" stroke-linejoin="round"/>
<polygon points="8.55,50.25 2.89,52.74 1.53,55.16 5.76,58.18 8.02,55.31" fill="#f06408" stroke="#f06408" stroke-width="3.02" stroke-linejoin="round"/><polygon points="7.66,51.28 3.27,53.21 2.21,55.08 5.49,57.42 7.25,55.2" fill="url(#g3)" stroke="#fe881a" stroke-width="2.27" stroke-linejoin="round"/>
<polygon points="7.55,56.25 1.89,58.74 0.53,61.16 4.76,64.18 7.02,61.31" fill="#f06408" stroke="#f06408" stroke-width="3.02" stroke-linejoin="round"/><polygon points="6.66,57.28 2.27,59.21 1.21,61.08 4.49,63.42 6.25,61.2" fill="url(#g3)" stroke="#fe881a" stroke-width="2.27" stroke-linejoin="round"/>
<polygon points="6.71,73.97 1.75,76.15 0.56,78.26 4.26,80.9 6.24,78.39" fill="#ea5e06" stroke="#ea5e06" stroke-width="2.64" stroke-linejoin="round"/><polygon points="5.85,74.96 2.13,76.59 1.24,78.18 4.01,80.16 5.5,78.28" fill="url(#g2)" stroke="#fa7c12" stroke-width="1.98" stroke-linejoin="round"/>
<polygon points="24.31,51.17 19.35,53.35 18.16,55.46 21.86,58.1 23.84,55.59" fill="#ea5e06" stroke="#ea5e06" stroke-width="2.64" stroke-linejoin="round"/><polygon points="23.45,52.16 19.73,53.79 18.84,55.38 21.61,57.36 23.1,55.48" fill="url(#g2)" stroke="#fa7c12" stroke-width="1.98" stroke-linejoin="round"/>
<polygon points="31.19,53.73 24.82,56.53 23.29,59.25 28.05,62.65 30.6,59.42" fill="#f06408" stroke="#f06408" stroke-width="3.4" stroke-linejoin="round"/><polygon points="30.19,54.88 25.25,57.06 24.06,59.16 27.75,61.8 29.73,59.3" fill="url(#g3)" stroke="#fe881a" stroke-width="2.55" stroke-linejoin="round"/>
<polygon points="2.72,15.4 -0.82,16.96 -1.67,18.47 0.97,20.36 2.39,18.57" fill="#da5404" stroke="#da5404" stroke-width="1.89" stroke-linejoin="round"/><polygon points="2.05,16.18 -0.52,17.31 -1.13,18.4 0.78,19.77 1.81,18.47" fill="url(#g1)" stroke="#ec6a0c" stroke-width="1.42" stroke-linejoin="round"/>
</g>
</g>
<rect x="43.4" y="46.5" width="14.5" height="11.4" fill="none" stroke="#1c7cd6" stroke-width="1.35"/>
<text x="3.8" y="85.5" font-size="4.75" font-family="Liberation Sans, sans-serif" fill="#222" stroke="#222" stroke-width="0.12" textLength="29.2" lengthAdjust="spacingAndGlyphs">Height Sensor</text>
<rect x="62.2" y="81.18" width="16.2" height="1.0" fill="#222"/>
<text x="70.3" y="86.1" font-size="4.75" font-family="Liberation Sans, sans-serif" fill="#222" stroke="#222" stroke-width="0.12" text-anchor="middle">1.0 um</text>
<rect x="93.2" y="20.1" width="5.3" height="40.6" fill="url(#cb)" stroke="#777" stroke-width="0.6"/>
<text x="95.5" y="19.2" font-size="4.7" font-family="Liberation Sans, sans-serif" fill="#222" stroke="#222" stroke-width="0.12" text-anchor="middle">262.7 nm</text>
<text x="95" y="65.0" font-size="4.7" font-family="Liberation Sans, sans-serif" fill="#222" stroke="#222" stroke-width="0.12" text-anchor="middle">-172.1 nm</text>
<text x="-13.2" y="4.7" font-size="9.9"  font-weight="bold" font-family="Liberation Serif, serif" fill="#111" stroke="#111" stroke-width="0.25">(e)</text>
<rect x="-20.25" y="8" width="1.7" height="73.6" fill="#0a0a0a"/>
<polygon points="-19.4,5.0 -21.8,9.0 -17,9.0" fill="#111"/>
<text transform="translate(-12.8,16.5) rotate(90)" font-size="10.4" font-family="Liberation Serif, serif" fill="#111" stroke="#111" stroke-width="0.3" textLength="52.8" lengthAdjust="spacingAndGlyphs">2139 - 2394 s</text>
</g>
<g transform="translate(165.4,100.8)">
<g clip-path="url(#pc)">
<rect x="0" y="0" width="82" height="80" fill="#bc3204"/>
<g filter="url(#b6)">
<ellipse cx="10" cy="12" rx="22" ry="13" fill="#6e1400" opacity="0.5"/>
<ellipse cx="40" cy="-3" rx="50" ry="5" fill="#4a0a00" opacity="0.7"/>
<ellipse cx="26" cy="40" rx="16" ry="10" fill="#d4480a" opacity="0.45"/>
<ellipse cx="60" cy="74" rx="22" ry="8" fill="#d84c0a" opacity="0.4"/>
</g>
<g filter="url(#b3)">
<ellipse cx="61" cy="26" rx="5" ry="10" fill="#2c0400" opacity="0.9"/>
<ellipse cx="54" cy="40" rx="6" ry="4" fill="#300400" opacity="0.9"/>
<ellipse cx="10" cy="58" rx="5" ry="5" fill="#300400" opacity="0.85"/>
<ellipse cx="65" cy="8" rx="4" ry="5" fill="#400800" opacity="0.6"/>
<ellipse cx="79" cy="28" rx="3" ry="6" fill="#300400" opacity="0.6"/>
<ellipse cx="32" cy="56" rx="6" ry="4" fill="#300400" opacity="0.5"/>
<ellipse cx="52" cy="74" rx="24" ry="9" fill="#d44808" opacity="0.6"/>
<ellipse cx="22" cy="76" rx="16" ry="6" fill="#c84006" opacity="0.5"/>
<ellipse cx="25" cy="33" rx="14" ry="12" fill="#c63e06" opacity="0.4"/>
</g>
<g filter="url(#b2)" opacity="0.8">
<rect x="36.5" y="-2" width="3.5" height="84" fill="#500a00" opacity="0.5"/>
<rect x="13" y="-2" width="3" height="84" fill="#500a00" opacity="0.35"/>
<rect x="-2" y="19" width="85" height="3.5" fill="#500a00" opacity="0.35"/>
<rect x="-2" y="42" width="85" height="3" fill="#500a00" opacity="0.4"/>
<rect x="-2" y="55" width="85" height="2.5" fill="#500a00" opacity="0.25"/>
</g>
<rect x="0" y="0" width="82" height="80" filter="url(#nz)"/>
<rect x="0" y="0" width="82" height="80" filter="url(#nz2)"/>
<g filter="url(#b2)" fill="#200300" stroke="#200300" opacity="0.7">
<polygon points="18.27,-2.63 21.96,-3.03 21.04,2.24 18.27,3.56 16.17,0.66" stroke-width="2.2" stroke-linejoin="round"/>
<polygon points="33.11,-1.85 38.64,-2.44 37.26,5.47 33.11,7.44 29.95,3.09" stroke-width="3.29" stroke-linejoin="round"/>
<polygon points="42,-2.84 46.92,-3.37 45.69,3.66 42,5.42 39.19,1.55" stroke-width="2.93" stroke-linejoin="round"/>
<polygon points="18.7,4.16 23.62,3.63 22.39,10.66 18.7,12.42 15.89,8.55" stroke-width="2.93" stroke-linejoin="round"/>
<polygon points="26.11,5.55 31.64,4.96 30.26,12.87 26.11,14.84 22.95,10.49" stroke-width="3.29" stroke-linejoin="round"/>
<polygon points="59.52,-0.05 65.67,-0.71 64.13,8.07 59.52,10.27 56.01,5.44" stroke-width="3.66" stroke-linejoin="round"/>
<polygon points="54.23,6.65 60.69,5.95 59.07,15.18 54.23,17.48 50.54,12.41" stroke-width="3.84" stroke-linejoin="round"/>
<polygon points="76.62,1.95 82.77,1.29 81.23,10.07 76.62,12.27 73.11,7.44" stroke-width="3.66" stroke-linejoin="round"/>
<polygon points="54.34,15.54 61.1,14.82 59.41,24.48 54.34,26.9 50.47,21.58" stroke-width="4.03" stroke-linejoin="round"/>
<polygon points="55.14,21.54 61.9,20.82 60.21,30.48 55.14,32.9 51.27,27.58" stroke-width="4.03" stroke-linejoin="round"/>
<polygon points="54.82,28.15 60.66,27.53 59.2,35.87 54.82,37.96 51.48,33.37" stroke-width="3.48" stroke-linejoin="round"/>
<polygon points="71.41,20.75 76.94,20.16 75.56,28.07 71.41,30.04 68.25,25.69" stroke-width="3.29" stroke-linejoin="round"/>
<polygon points="75.41,23.75 80.94,23.16 79.56,31.07 75.41,33.04 72.25,28.69" stroke-width="3.29" stroke-linejoin="round"/>
<polygon points="80.72,32.25 86.87,31.59 85.33,40.37 80.72,42.57 77.21,37.74" stroke-width="3.66" stroke-linejoin="round"/>
<polygon points="77.2,42.56 82.12,42.03 80.89,49.06 77.2,50.82 74.39,46.95" stroke-width="2.93" stroke-linejoin="round"/>
<polygon points="48.21,37.85 53.74,37.26 52.36,45.17 48.21,47.14 45.05,42.79" stroke-width="3.29" stroke-linejoin="round"/>
<polygon points="66.62,40.65 72.77,39.99 71.23,48.77 66.62,50.97 63.11,46.14" stroke-width="3.66" stroke-linejoin="round"/>
<polygon points="74.2,45.56 79.12,45.03 77.89,52.06 74.2,53.82 71.39,49.95" stroke-width="2.93" stroke-linejoin="round"/>
<polygon points="68.77,49.77 72.46,49.37 71.54,54.64 68.77,55.96 66.67,53.06" stroke-width="2.2" stroke-linejoin="round"/>
<polygon points="50.91,49.95 56.44,49.36 55.06,57.27 50.91,59.24 47.75,54.89" stroke-width="3.29" stroke-linejoin="round"/>
<polygon points="66.91,54.55 72.44,53.96 71.06,61.87 66.91,63.84 63.75,59.49" stroke-width="3.29" stroke-linejoin="round"/>
<polygon points="71.41,65.55 76.94,64.96 75.56,72.87 71.41,74.84 68.25,70.49" stroke-width="3.29" stroke-linejoin="round"/>
<polygon points="4.7,45.56 9.62,45.03 8.39,52.06 4.7,53.82 1.89,49.95" stroke-width="2.93" stroke-linejoin="round"/>
<polygon points="5.3,53.56 10.22,53.03 8.99,60.06 5.3,61.82 2.49,57.95" stroke-width="2.93" stroke-linejoin="round"/>
<polygon points="4.7,61.66 9.62,61.13 8.39,68.16 4.7,69.92 1.89,66.05" stroke-width="2.93" stroke-linejoin="round"/>
<polygon points="4.49,74.36 8.79,73.9 7.71,80.05 4.49,81.59 2.03,78.21" stroke-width="2.56" stroke-linejoin="round"/>
<polygon points="20.91,53.35 26.44,52.76 25.06,60.67 20.91,62.64 17.75,58.29" stroke-width="3.29" stroke-linejoin="round"/>
<polygon points="27.71,57.45 33.24,56.86 31.86,64.77 27.71,66.74 24.55,62.39" stroke-width="3.29" stroke-linejoin="round"/>
</g>
<g filter="url(#b0)">
<polygon points="16.18,-1.58 19.46,-1.93 18.64,2.76 16.18,3.93 14.31,1.35" fill="#ea5e06" stroke="#ea5e06" stroke-width="2.34" stroke-linejoin="round"/><polygon points="16.31,-0.86 18.77,-1.12 18.16,2.39 16.31,3.27 14.91,1.34" fill="url(#g2)" stroke="#fa7c12" stroke-width="1.76" stroke-linejoin="round"/>
<polygon points="29.97,-0.26 34.89,-0.79 33.66,6.24 29.97,7.99 27.16,4.13" fill="#f06408" stroke="#f06408" stroke-width="3.51" stroke-linejoin="round"/><polygon points="30.14,0.71 33.95,0.31 33,5.75 30.14,7.11 27.96,4.12" fill="url(#g3)" stroke="#fe881a" stroke-width="2.64" stroke-linejoin="round"/>
<polygon points="39.21,-1.44 43.58,-1.9 42.49,4.34 39.21,5.9 36.71,2.47" fill="#ea5e06" stroke="#ea5e06" stroke-width="3.12" stroke-linejoin="round"/><polygon points="39.38,-0.48 42.66,-0.83 41.84,3.85 39.38,5.03 37.51,2.45" fill="url(#g2)" stroke="#fa7c12" stroke-width="2.34" stroke-linejoin="round"/>
<polygon points="15.91,5.56 20.28,5.1 19.19,11.34 15.91,12.9 13.41,9.47" fill="#ea5e06" stroke="#ea5e06" stroke-width="3.12" stroke-linejoin="round"/><polygon points="16.08,6.52 19.36,6.17 18.54,10.85 16.08,12.03 14.21,9.45" fill="url(#g2)" stroke="#fa7c12" stroke-width="2.34" stroke-linejoin="round"/>
<polygon points="22.97,7.14 27.89,6.61 26.66,13.64 22.97,15.39 20.16,11.53" fill="#ea5e06" stroke="#ea5e06" stroke-width="3.51" stroke-linejoin="round"/><polygon points="23.17,8.21 26.86,7.82 25.93,13.09 23.17,14.4 21.06,11.51" fill="url(#g2)" stroke="#fa7c12" stroke-width="2.64" stroke-linejoin="round"/>
<polygon points="11.18,10.42 14.46,10.07 13.64,14.76 11.18,15.93 9.31,13.35" fill="#da5404" stroke="#da5404" stroke-width="2.34" stroke-linejoin="round"/><polygon points="11.33,11.21 13.71,10.95 13.12,14.35 11.33,15.2 9.97,13.33" fill="url(#g1)" stroke="#ec6a0c" stroke-width="1.76" stroke-linejoin="round"/>
<polygon points="56.03,1.71 61.5,1.12 60.13,8.93 56.03,10.88 52.91,6.59" fill="#f26808" stroke="#f26808" stroke-width="3.9" stroke-linejoin="round"/><polygon points="56.12,2.47 60.76,1.97 59.6,8.61 56.12,10.27 53.46,6.62" fill="url(#g4)" stroke="#ff9426" stroke-width="2.93" stroke-linejoin="round"/>
<polygon points="50.48,8.22 56.56,7.57 55.04,16.26 50.48,18.43 47,13.65" fill="#f6760e" stroke="#f6760e" stroke-width="4.35" stroke-linejoin="round"/><polygon points="50.34,8.36 56.43,7.7 54.91,16.39 50.34,18.57 46.87,13.79" fill="url(#g5)" stroke="#ffbc6c" stroke-width="3.26" stroke-linejoin="round"/>
<polygon points="73.13,3.71 78.6,3.12 77.23,10.93 73.13,12.88 70.01,8.59" fill="#f06408" stroke="#f06408" stroke-width="3.9" stroke-linejoin="round"/><polygon points="73.32,4.79 77.55,4.34 76.5,10.39 73.32,11.9 70.9,8.58" fill="url(#g3)" stroke="#fe881a" stroke-width="2.93" stroke-linejoin="round"/>
<polygon points="50.41,17.19 56.78,16.51 55.19,25.61 50.41,27.89 46.77,22.88" fill="#f6760e" stroke="#f6760e" stroke-width="4.55" stroke-linejoin="round"/><polygon points="50.26,17.33 56.64,16.65 55.04,25.76 50.26,28.03 46.62,23.03" fill="url(#g5)" stroke="#ffbc6c" stroke-width="3.41" stroke-linejoin="round"/>
<polygon points="51.21,23.19 57.58,22.51 55.99,31.61 51.21,33.89 47.57,28.88" fill="#f6760e" stroke="#f6760e" stroke-width="4.55" stroke-linejoin="round"/><polygon points="51.06,23.33 57.44,22.65 55.84,31.76 51.06,34.03 47.42,29.03" fill="url(#g5)" stroke="#ffbc6c" stroke-width="3.41" stroke-linejoin="round"/>
<polygon points="51.42,29.58 56.93,28.99 55.55,36.85 51.42,38.81 48.28,34.49" fill="#f6760e" stroke="#f6760e" stroke-width="3.93" stroke-linejoin="round"/><polygon points="51.3,29.7 56.81,29.11 55.43,36.97 51.3,38.94 48.16,34.61" fill="url(#g5)" stroke="#ffbc6c" stroke-width="2.95" stroke-linejoin="round"/>
<polygon points="68.27,22.34 73.19,21.81 71.96,28.84 68.27,30.59 65.46,26.73" fill="#f06408" stroke="#f06408" stroke-width="3.51" stroke-linejoin="round"/><polygon points="68.44,23.31 72.25,22.91 71.3,28.35 68.44,29.71 66.26,26.72" fill="url(#g3)" stroke="#fe881a" stroke-width="2.64" stroke-linejoin="round"/>
<polygon points="72.27,25.34 77.19,24.81 75.96,31.84 72.27,33.59 69.46,29.73" fill="#f06408" stroke="#f06408" stroke-width="3.51" stroke-linejoin="round"/><polygon points="72.44,26.31 76.25,25.91 75.3,31.35 72.44,32.71 70.26,29.72" fill="url(#g3)" stroke="#fe881a" stroke-width="2.64" stroke-linejoin="round"/>
<polygon points="77.23,34.01 82.7,33.42 81.33,41.23 77.23,43.18 74.11,38.89" fill="#f06408" stroke="#f06408" stroke-width="3.9" stroke-linejoin="round"/><polygon points="77.42,35.09 81.65,34.64 80.6,40.69 77.42,42.2 75,38.88" fill="url(#g3)" stroke="#fe881a" stroke-width="2.93" stroke-linejoin="round"/>
<polygon points="74.41,43.96 78.78,43.5 77.69,49.74 74.41,51.3 71.91,47.87" fill="#ea5e06" stroke="#ea5e06" stroke-width="3.12" stroke-linejoin="round"/><polygon points="74.58,44.92 77.86,44.57 77.04,49.25 74.58,50.43 72.71,47.85" fill="url(#g2)" stroke="#fa7c12" stroke-width="2.34" stroke-linejoin="round"/>
<polygon points="45.07,39.44 49.99,38.91 48.76,45.94 45.07,47.69 42.26,43.83" fill="#f06408" stroke="#f06408" stroke-width="3.51" stroke-linejoin="round"/><polygon points="45.24,40.41 49.05,40.01 48.1,45.45 45.24,46.81 43.06,43.82" fill="url(#g3)" stroke="#fe881a" stroke-width="2.64" stroke-linejoin="round"/>
<polygon points="63.13,42.41 68.6,41.82 67.23,49.63 63.13,51.58 60.01,47.29" fill="#f26808" stroke="#f26808" stroke-width="3.9" stroke-linejoin="round"/><polygon points="63.22,43.17 67.86,42.67 66.7,49.31 63.22,50.97 60.56,47.32" fill="url(#g4)" stroke="#ff9426" stroke-width="2.93" stroke-linejoin="round"/>
<polygon points="71.41,46.96 75.78,46.5 74.69,52.74 71.41,54.3 68.91,50.87" fill="#ea5e06" stroke="#ea5e06" stroke-width="3.12" stroke-linejoin="round"/><polygon points="71.58,47.92 74.86,47.57 74.04,52.25 71.58,53.43 69.71,50.85" fill="url(#g2)" stroke="#fa7c12" stroke-width="2.34" stroke-linejoin="round"/>
<polygon points="66.68,50.82 69.96,50.47 69.14,55.16 66.68,56.33 64.81,53.75" fill="#ea5e06" stroke="#ea5e06" stroke-width="2.34" stroke-linejoin="round"/><polygon points="66.81,51.54 69.27,51.28 68.66,54.79 66.81,55.67 65.41,53.74" fill="url(#g2)" stroke="#fa7c12" stroke-width="1.76" stroke-linejoin="round"/>
<polygon points="47.77,51.54 52.69,51.01 51.46,58.04 47.77,59.79 44.96,55.93" fill="#f06408" stroke="#f06408" stroke-width="3.51" stroke-linejoin="round"/><polygon points="47.94,52.51 51.75,52.11 50.8,57.55 47.94,58.91 45.76,55.92" fill="url(#g3)" stroke="#fe881a" stroke-width="2.64" stroke-linejoin="round"/>
<polygon points="63.77,56.14 68.69,55.61 67.46,62.64 63.77,64.39 60.96,60.53" fill="#f06408" stroke="#f06408" stroke-width="3.51" stroke-linejoin="round"/><polygon points="63.94,57.11 67.75,56.71 66.8,62.15 63.94,63.51 61.76,60.52" fill="url(#g3)" stroke="#fe881a" stroke-width="2.64" stroke-linejoin="round"/>
<polygon points="68.27,67.14 73.19,66.61 71.96,73.64 68.27,75.39 65.46,71.53" fill="#f06408" stroke="#f06408" stroke-width="3.51" stroke-linejoin="round"/><polygon points="68.44,68.11 72.25,67.71 71.3,73.15 68.44,74.51 66.26,71.52" fill="url(#g3)" stroke="#fe881a" stroke-width="2.64" stroke-linejoin="round"/>
<polygon points="1.91,46.96 6.28,46.5 5.19,52.74 1.91,54.3 -0.59,50.87" fill="#f06408" stroke="#f06408" stroke-width="3.12" stroke-linejoin="round"/><polygon points="2.06,47.84 5.44,47.47 4.6,52.31 2.06,53.52 0.12,50.86" fill="url(#g3)" stroke="#fe881a" stroke-width="2.34" stroke-linejoin="round"/>
<polygon points="2.51,54.96 6.88,54.5 5.79,60.74 2.51,62.3 0.01,58.87" fill="#f06408" stroke="#f06408" stroke-width="3.12" stroke-linejoin="round"/><polygon points="2.66,55.84 6.04,55.47 5.2,60.31 2.66,61.52 0.72,58.86" fill="url(#g3)" stroke="#fe881a" stroke-width="2.34" stroke-linejoin="round"/>
<polygon points="1.91,63.06 6.28,62.6 5.19,68.84 1.91,70.4 -0.59,66.97" fill="#f06408" stroke="#f06408" stroke-width="3.12" stroke-linejoin="round"/><polygon points="2.06,63.94 5.44,63.57 4.6,68.41 2.06,69.62 0.12,66.96" fill="url(#g3)" stroke="#fe881a" stroke-width="2.34" stroke-linejoin="round"/>
<polygon points="2.04,75.59 5.87,75.18 4.91,80.65 2.04,82.02 -0.14,79.01" fill="#ea5e06" stroke="#ea5e06" stroke-width="2.73" stroke-linejoin="round"/><polygon points="2.2,76.43 5.07,76.12 4.35,80.22 2.2,81.25 0.56,78.99" fill="url(#g2)" stroke="#fa7c12" stroke-width="2.05" stroke-linejoin="round"/>
<polygon points="17.77,54.94 22.69,54.41 21.46,61.44 17.77,63.19 14.96,59.33" fill="#f06408" stroke="#f06408" stroke-width="3.51" stroke-linejoin="round"/><polygon points="17.94,55.91 21.75,55.51 20.8,60.95 17.94,62.31 15.76,59.32" fill="url(#g3)" stroke="#fe881a" stroke-width="2.64" stroke-linejoin="round"/>
<polygon points="24.57,59.04 29.49,58.51 28.26,65.54 24.57,67.29 21.76,63.43" fill="#f06408" stroke="#f06408" stroke-width="3.51" stroke-linejoin="round"/><polygon points="24.74,60.01 28.55,59.61 27.6,65.05 24.74,66.41 22.56,63.42" fill="url(#g3)" stroke="#fe881a" stroke-width="2.64" stroke-linejoin="round"/>
</g>
</g>
<rect x="41.7" y="50.2" width="14.5" height="11.1" fill="none" stroke="#1c7cd6" stroke-width="1.35"/>
<text x="3.8" y="85.5" font-size="4.75" font-family="Liberation Sans, sans-serif" fill="#222" stroke="#222" stroke-width="0.12" textLength="29.2" lengthAdjust="spacingAndGlyphs">Height Sensor</text>
<rect x="62.2" y="81.18" width="16.2" height="1.0" fill="#222"/>
<text x="70.3" y="86.1" font-size="4.75" font-family="Liberation Sans, sans-serif" fill="#222" stroke="#222" stroke-width="0.12" text-anchor="middle">1.0 um</text>
<rect x="93.2" y="20.1" width="5.3" height="40.6" fill="url(#cb)" stroke="#777" stroke-width="0.6"/>
<text x="95.5" y="19.2" font-size="4.7" font-family="Liberation Sans, sans-serif" fill="#222" stroke="#222" stroke-width="0.12" text-anchor="middle">313.2 nm</text>
<text x="95" y="65.0" font-size="4.7" font-family="Liberation Sans, sans-serif" fill="#222" stroke="#222" stroke-width="0.12" text-anchor="middle">-215.8 nm</text>
<text x="-13.2" y="4.7" font-size="9.9"  font-weight="bold" font-family="Liberation Serif, serif" fill="#111" stroke="#111" stroke-width="0.25">(f)</text>
<rect x="-20.85" y="8" width="1.7" height="73.6" fill="#0a0a0a"/>
<polygon points="-20,5.0 -22.4,9.0 -17.6,9.0" fill="#111"/>
<text transform="translate(-13.4,16.5) rotate(90)" font-size="10.4" font-family="Liberation Serif, serif" fill="#111" stroke="#111" stroke-width="0.3" textLength="52.8" lengthAdjust="spacingAndGlyphs">2139 - 2394 s</text>
</g>
<g transform="translate(302.7,100.8)">
<g clip-path="url(#pc)">
<rect x="0" y="0" width="82" height="80" fill="#b83004"/>
<g filter="url(#b6)">
<ellipse cx="10" cy="12" rx="22" ry="13" fill="#6e1400" opacity="0.5"/>
<ellipse cx="40" cy="-3" rx="50" ry="5" fill="#4a0a00" opacity="0.7"/>
<ellipse cx="26" cy="40" rx="16" ry="10" fill="#d4480a" opacity="0.45"/>
<ellipse cx="60" cy="74" rx="22" ry="8" fill="#d84c0a" opacity="0.4"/>
</g>
<g filter="url(#b3)">
<ellipse cx="59" cy="30" rx="5" ry="12" fill="#2c0400" opacity="0.9"/>
<ellipse cx="51" cy="44" rx="6" ry="4" fill="#300400" opacity="0.9"/>
<ellipse cx="5" cy="38" rx="4" ry="14" fill="#400800" opacity="0.4"/>
<ellipse cx="63" cy="11" rx="4" ry="5" fill="#400800" opacity="0.6"/>
<ellipse cx="78" cy="32" rx="3" ry="6" fill="#300400" opacity="0.6"/>
<ellipse cx="29" cy="60" rx="6" ry="4" fill="#300400" opacity="0.5"/>
<ellipse cx="8" cy="63" rx="4" ry="5" fill="#300400" opacity="0.7"/>
<ellipse cx="48" cy="76" rx="22" ry="7" fill="#d44808" opacity="0.6"/>
<ellipse cx="26" cy="38" rx="12" ry="12" fill="#c63e06" opacity="0.4"/>
</g>
<g filter="url(#b2)" opacity="0.8">
<rect x="35.5" y="-2" width="3.5" height="84" fill="#500a00" opacity="0.5"/>
<rect x="11" y="-2" width="3" height="84" fill="#500a00" opacity="0.3"/>
<rect x="-2" y="21" width="85" height="3.5" fill="#500a00" opacity="0.35"/>
<rect x="-2" y="46" width="85" height="3" fill="#500a00" opacity="0.4"/>
<rect x="-2" y="60" width="85" height="2.5" fill="#500a00" opacity="0.25"/>
</g>
<rect x="0" y="0" width="82" height="80" filter="url(#nz)"/>
<rect x="0" y="0" width="82" height="80" filter="url(#nz2)"/>
<g filter="url(#b2)" fill="#200300" stroke="#200300" opacity="0.7">
<polygon points="16.94,-3.14 22.57,-3.74 21.16,4.3 16.94,6.31 13.73,1.89" stroke-width="3.35" stroke-linejoin="round"/>
<polygon points="30.76,-0.15 37.01,-0.82 35.44,8.11 30.76,10.34 27.19,5.43" stroke-width="3.72" stroke-linejoin="round"/>
<polygon points="39.84,-1.14 45.47,-1.74 44.06,6.3 39.84,8.31 36.63,3.89" stroke-width="3.35" stroke-linejoin="round"/>
<polygon points="46.59,-2.69 50.34,-3.09 49.41,2.26 46.59,3.6 44.45,0.66" stroke-width="2.23" stroke-linejoin="round"/>
<polygon points="64.23,-3.32 69.23,-3.86 67.98,3.29 64.23,5.07 61.37,1.14" stroke-width="2.98" stroke-linejoin="round"/>
<polygon points="15.73,7.58 20.73,7.04 19.48,14.19 15.73,15.97 12.87,12.04" stroke-width="2.98" stroke-linejoin="round"/>
<polygon points="23.14,8.96 28.77,8.36 27.36,16.4 23.14,18.41 19.93,13.99" stroke-width="3.35" stroke-linejoin="round"/>
<polygon points="57.56,3.55 63.81,2.88 62.24,11.81 57.56,14.04 53.99,9.13" stroke-width="3.72" stroke-linejoin="round"/>
<polygon points="51.77,10.23 58.65,9.5 56.93,19.32 51.77,21.77 47.85,16.37" stroke-width="4.09" stroke-linejoin="round"/>
<polygon points="74.37,5.73 81.25,5 79.53,14.82 74.37,17.27 70.45,11.87" stroke-width="4.09" stroke-linejoin="round"/>
<polygon points="50.77,19.43 57.65,18.7 55.93,28.52 50.77,30.97 46.85,25.57" stroke-width="4.09" stroke-linejoin="round"/>
<polygon points="52.37,25.43 59.25,24.7 57.53,34.52 52.37,36.97 48.45,31.57" stroke-width="4.09" stroke-linejoin="round"/>
<polygon points="52.05,32.06 57.99,31.42 56.5,39.9 52.05,42.02 48.66,37.36" stroke-width="3.53" stroke-linejoin="round"/>
<polygon points="68.44,24.66 74.07,24.06 72.66,32.1 68.44,34.11 65.23,29.69" stroke-width="3.35" stroke-linejoin="round"/>
<polygon points="72.44,28.36 78.07,27.76 76.66,35.8 72.44,37.81 69.23,33.39" stroke-width="3.35" stroke-linejoin="round"/>
<polygon points="81.79,24.31 85.54,23.91 84.61,29.26 81.79,30.6 79.65,27.66" stroke-width="2.23" stroke-linejoin="round"/>
<polygon points="77.87,35.53 84.75,34.8 83.03,44.62 77.87,47.07 73.95,41.67" stroke-width="4.09" stroke-linejoin="round"/>
<polygon points="75.73,44.48 80.73,43.94 79.48,51.09 75.73,52.87 72.87,48.94" stroke-width="2.98" stroke-linejoin="round"/>
<polygon points="44.64,42.86 50.27,42.26 48.86,50.3 44.64,52.31 41.43,47.89" stroke-width="3.35" stroke-linejoin="round"/>
<polygon points="63.66,45.25 69.91,44.58 68.34,53.51 63.66,55.74 60.09,50.83" stroke-width="3.72" stroke-linejoin="round"/>
<polygon points="71.94,49.26 77.57,48.66 76.16,56.7 71.94,58.71 68.73,54.29" stroke-width="3.35" stroke-linejoin="round"/>
<polygon points="65.51,54.09 69.89,53.63 68.79,59.88 65.51,61.44 63.01,58" stroke-width="2.6" stroke-linejoin="round"/>
<polygon points="47.94,54.46 53.57,53.86 52.16,61.9 47.94,63.91 44.73,59.49" stroke-width="3.35" stroke-linejoin="round"/>
<polygon points="63.44,59.36 69.07,58.76 67.66,66.8 63.44,68.81 60.23,64.39" stroke-width="3.35" stroke-linejoin="round"/>
<polygon points="68.66,69.45 74.91,68.78 73.34,77.71 68.66,79.94 65.09,75.03" stroke-width="3.72" stroke-linejoin="round"/>
<polygon points="3.33,49.48 8.33,48.94 7.08,56.09 3.33,57.87 0.47,53.94" stroke-width="2.98" stroke-linejoin="round"/>
<polygon points="3.33,57.58 8.33,57.04 7.08,64.19 3.33,65.97 0.47,62.04" stroke-width="2.98" stroke-linejoin="round"/>
<polygon points="2.73,65.58 7.73,65.04 6.48,72.19 2.73,73.97 -0.13,70.04" stroke-width="2.98" stroke-linejoin="round"/>
<polygon points="17.64,57.96 23.27,57.36 21.86,65.4 17.64,67.41 14.43,62.99" stroke-width="3.35" stroke-linejoin="round"/>
<polygon points="24.54,61.36 30.17,60.76 28.76,68.8 24.54,70.81 21.33,66.39" stroke-width="3.35" stroke-linejoin="round"/>
</g>
<g filter="url(#b0)">
<polygon points="13.75,-1.53 18.75,-2.06 17.5,5.08 13.75,6.86 10.89,2.94" fill="#f06408" stroke="#f06408" stroke-width="3.57" stroke-linejoin="round"/><polygon points="13.92,-0.53 17.79,-0.95 16.83,4.59 13.92,5.97 11.71,2.93" fill="url(#g3)" stroke="#fe881a" stroke-width="2.68" stroke-linejoin="round"/>
<polygon points="27.21,1.64 32.77,1.04 31.38,8.98 27.21,10.96 24.04,6.6" fill="#f06408" stroke="#f06408" stroke-width="3.97" stroke-linejoin="round"/><polygon points="27.4,2.74 31.7,2.28 30.63,8.43 27.4,9.97 24.94,6.59" fill="url(#g3)" stroke="#fe881a" stroke-width="2.98" stroke-linejoin="round"/>
<polygon points="36.65,0.47 41.65,-0.06 40.4,7.08 36.65,8.86 33.79,4.94" fill="#ea5e06" stroke="#ea5e06" stroke-width="3.57" stroke-linejoin="round"/><polygon points="36.85,1.57 40.6,1.16 39.66,6.52 36.85,7.86 34.71,4.91" fill="url(#g2)" stroke="#fa7c12" stroke-width="2.68" stroke-linejoin="round"/>
<polygon points="44.47,-1.62 47.8,-1.98 46.97,2.79 44.47,3.98 42.56,1.36" fill="#ea5e06" stroke="#ea5e06" stroke-width="2.38" stroke-linejoin="round"/><polygon points="44.6,-0.89 47.1,-1.16 46.48,2.41 44.6,3.31 43.17,1.34" fill="url(#g2)" stroke="#fa7c12" stroke-width="1.79" stroke-linejoin="round"/>
<polygon points="61.39,-1.89 65.83,-2.37 64.72,3.98 61.39,5.57 58.85,2.08" fill="#f06408" stroke="#f06408" stroke-width="3.17" stroke-linejoin="round"/><polygon points="61.54,-1.01 64.98,-1.38 64.12,3.54 61.54,4.77 59.57,2.07" fill="url(#g3)" stroke="#fe881a" stroke-width="2.38" stroke-linejoin="round"/>
<polygon points="12.89,9.01 17.33,8.53 16.22,14.88 12.89,16.47 10.35,12.98" fill="#ea5e06" stroke="#ea5e06" stroke-width="3.17" stroke-linejoin="round"/><polygon points="13.07,9.98 16.4,9.62 15.57,14.38 13.07,15.58 11.16,12.96" fill="url(#g2)" stroke="#fa7c12" stroke-width="2.38" stroke-linejoin="round"/>
<polygon points="19.95,10.57 24.95,10.04 23.7,17.18 19.95,18.96 17.09,15.04" fill="#ea5e06" stroke="#ea5e06" stroke-width="3.57" stroke-linejoin="round"/><polygon points="20.15,11.67 23.9,11.26 22.96,16.62 20.15,17.96 18.01,15.01" fill="url(#g2)" stroke="#fa7c12" stroke-width="2.68" stroke-linejoin="round"/>
<polygon points="7.17,13.38 10.5,13.02 9.67,17.79 7.17,18.98 5.26,16.36" fill="#da5404" stroke="#da5404" stroke-width="2.38" stroke-linejoin="round"/><polygon points="7.32,14.18 9.74,13.92 9.13,17.37 7.32,18.23 5.94,16.33" fill="url(#g1)" stroke="#ec6a0c" stroke-width="1.79" stroke-linejoin="round"/>
<polygon points="54.01,5.34 59.57,4.74 58.18,12.68 54.01,14.66 50.84,10.3" fill="#f26808" stroke="#f26808" stroke-width="3.97" stroke-linejoin="round"/><polygon points="54.1,6.11 58.82,5.61 57.64,12.35 54.1,14.04 51.4,10.33" fill="url(#g4)" stroke="#ff9426" stroke-width="2.98" stroke-linejoin="round"/>
<polygon points="47.78,11.91 54.26,11.22 52.64,20.47 47.78,22.78 44.08,17.69" fill="#f6760e" stroke="#f6760e" stroke-width="4.63" stroke-linejoin="round"/><polygon points="47.64,12.06 54.11,11.36 52.49,20.61 47.64,22.93 43.93,17.84" fill="url(#g5)" stroke="#ffbc6c" stroke-width="3.47" stroke-linejoin="round"/>
<polygon points="70.47,7.7 76.58,7.04 75.06,15.77 70.47,17.96 66.98,13.15" fill="#f06408" stroke="#f06408" stroke-width="4.36" stroke-linejoin="round"/><polygon points="70.68,8.92 75.42,8.41 74.23,15.17 70.68,16.86 67.97,13.14" fill="url(#g3)" stroke="#fe881a" stroke-width="3.27" stroke-linejoin="round"/>
<polygon points="46.78,21.11 53.26,20.42 51.64,29.67 46.78,31.98 43.08,26.89" fill="#f6760e" stroke="#f6760e" stroke-width="4.63" stroke-linejoin="round"/><polygon points="46.64,21.26 53.11,20.56 51.49,29.81 46.64,32.13 42.93,27.04" fill="url(#g5)" stroke="#ffbc6c" stroke-width="3.47" stroke-linejoin="round"/>
<polygon points="48.38,27.11 54.86,26.42 53.24,35.67 48.38,37.98 44.68,32.89" fill="#f6760e" stroke="#f6760e" stroke-width="4.63" stroke-linejoin="round"/><polygon points="48.24,27.26 54.71,26.56 53.09,35.81 48.24,38.13 44.53,33.04" fill="url(#g5)" stroke="#ffbc6c" stroke-width="3.47" stroke-linejoin="round"/>
<polygon points="48.6,33.5 54.2,32.91 52.8,40.9 48.6,42.89 45.4,38.5" fill="#f6760e" stroke="#f6760e" stroke-width="4" stroke-linejoin="round"/><polygon points="48.48,33.63 54.07,33.03 52.67,41.02 48.48,43.02 45.28,38.62" fill="url(#g5)" stroke="#ffbc6c" stroke-width="3" stroke-linejoin="round"/>
<polygon points="65.25,26.27 70.25,25.74 69,32.88 65.25,34.66 62.39,30.74" fill="#f06408" stroke="#f06408" stroke-width="3.57" stroke-linejoin="round"/><polygon points="65.42,27.27 69.29,26.85 68.33,32.39 65.42,33.77 63.21,30.73" fill="url(#g3)" stroke="#fe881a" stroke-width="2.68" stroke-linejoin="round"/>
<polygon points="69.25,29.97 74.25,29.44 73,36.58 69.25,38.36 66.39,34.44" fill="#f06408" stroke="#f06408" stroke-width="3.57" stroke-linejoin="round"/><polygon points="69.42,30.97 73.29,30.55 72.33,36.09 69.42,37.47 67.21,34.43" fill="url(#g3)" stroke="#fe881a" stroke-width="2.68" stroke-linejoin="round"/>
<polygon points="79.67,25.38 83,25.02 82.17,29.79 79.67,30.98 77.76,28.36" fill="#ea5e06" stroke="#ea5e06" stroke-width="2.38" stroke-linejoin="round"/><polygon points="79.8,26.11 82.3,25.84 81.68,29.41 79.8,30.31 78.37,28.34" fill="url(#g2)" stroke="#fa7c12" stroke-width="1.79" stroke-linejoin="round"/>
<polygon points="73.97,37.5 80.08,36.84 78.56,45.57 73.97,47.76 70.48,42.95" fill="#f06408" stroke="#f06408" stroke-width="4.36" stroke-linejoin="round"/><polygon points="74.18,38.72 78.92,38.21 77.73,44.97 74.18,46.66 71.47,42.94" fill="url(#g3)" stroke="#fe881a" stroke-width="3.27" stroke-linejoin="round"/>
<polygon points="72.89,45.91 77.33,45.43 76.22,51.78 72.89,53.37 70.35,49.88" fill="#ea5e06" stroke="#ea5e06" stroke-width="3.17" stroke-linejoin="round"/><polygon points="73.07,46.88 76.4,46.52 75.57,51.28 73.07,52.48 71.16,49.86" fill="url(#g2)" stroke="#fa7c12" stroke-width="2.38" stroke-linejoin="round"/>
<polygon points="41.45,44.47 46.45,43.94 45.2,51.08 41.45,52.86 38.59,48.94" fill="#f06408" stroke="#f06408" stroke-width="3.57" stroke-linejoin="round"/><polygon points="41.62,45.47 45.49,45.05 44.53,50.59 41.62,51.97 39.41,48.93" fill="url(#g3)" stroke="#fe881a" stroke-width="2.68" stroke-linejoin="round"/>
<polygon points="60.11,47.04 65.67,46.44 64.28,54.38 60.11,56.36 56.94,52" fill="#f26808" stroke="#f26808" stroke-width="3.97" stroke-linejoin="round"/><polygon points="60.2,47.81 64.92,47.31 63.74,54.05 60.2,55.74 57.5,52.03" fill="url(#g4)" stroke="#ff9426" stroke-width="2.98" stroke-linejoin="round"/>
<polygon points="68.75,50.87 73.75,50.34 72.5,57.48 68.75,59.26 65.89,55.34" fill="#ea5e06" stroke="#ea5e06" stroke-width="3.57" stroke-linejoin="round"/><polygon points="68.95,51.97 72.7,51.56 71.76,56.92 68.95,58.26 66.81,55.31" fill="url(#g2)" stroke="#fa7c12" stroke-width="2.68" stroke-linejoin="round"/>
<polygon points="63.03,55.34 66.92,54.93 65.94,60.48 63.03,61.87 60.81,58.82" fill="#ea5e06" stroke="#ea5e06" stroke-width="2.78" stroke-linejoin="round"/><polygon points="63.18,56.2 66.1,55.88 65.37,60.05 63.18,61.09 61.52,58.8" fill="url(#g2)" stroke="#fa7c12" stroke-width="2.08" stroke-linejoin="round"/>
<polygon points="44.75,56.07 49.75,55.54 48.5,62.68 44.75,64.46 41.89,60.54" fill="#f06408" stroke="#f06408" stroke-width="3.57" stroke-linejoin="round"/><polygon points="44.92,57.07 48.79,56.65 47.83,62.19 44.92,63.57 42.71,60.53" fill="url(#g3)" stroke="#fe881a" stroke-width="2.68" stroke-linejoin="round"/>
<polygon points="60.25,60.97 65.25,60.44 64,67.58 60.25,69.36 57.39,65.44" fill="#f06408" stroke="#f06408" stroke-width="3.57" stroke-linejoin="round"/><polygon points="60.42,61.97 64.29,61.55 63.33,67.09 60.42,68.47 58.21,65.43" fill="url(#g3)" stroke="#fe881a" stroke-width="2.68" stroke-linejoin="round"/>
<polygon points="65.11,71.24 70.67,70.64 69.28,78.58 65.11,80.56 61.94,76.2" fill="#f06408" stroke="#f06408" stroke-width="3.97" stroke-linejoin="round"/><polygon points="65.3,72.34 69.6,71.88 68.53,78.03 65.3,79.57 62.84,76.19" fill="url(#g3)" stroke="#fe881a" stroke-width="2.98" stroke-linejoin="round"/>
<polygon points="0.49,50.91 4.93,50.43 3.82,56.78 0.49,58.37 -2.05,54.88" fill="#f06408" stroke="#f06408" stroke-width="3.17" stroke-linejoin="round"/><polygon points="0.64,51.79 4.08,51.42 3.22,56.34 0.64,57.57 -1.33,54.87" fill="url(#g3)" stroke="#fe881a" stroke-width="2.38" stroke-linejoin="round"/>
<polygon points="0.49,59.01 4.93,58.53 3.82,64.88 0.49,66.47 -2.05,62.98" fill="#f06408" stroke="#f06408" stroke-width="3.17" stroke-linejoin="round"/><polygon points="0.64,59.89 4.08,59.52 3.22,64.44 0.64,65.67 -1.33,62.97" fill="url(#g3)" stroke="#fe881a" stroke-width="2.38" stroke-linejoin="round"/>
<polygon points="-0.11,67.01 4.33,66.53 3.22,72.88 -0.11,74.47 -2.65,70.98" fill="#f06408" stroke="#f06408" stroke-width="3.17" stroke-linejoin="round"/><polygon points="0.04,67.89 3.48,67.52 2.62,72.44 0.04,73.67 -1.93,70.97" fill="url(#g3)" stroke="#fe881a" stroke-width="2.38" stroke-linejoin="round"/>
<polygon points="14.45,59.57 19.45,59.04 18.2,66.18 14.45,67.96 11.59,64.04" fill="#f06408" stroke="#f06408" stroke-width="3.57" stroke-linejoin="round"/><polygon points="14.62,60.57 18.49,60.15 17.53,65.69 14.62,67.07 12.41,64.03" fill="url(#g3)" stroke="#fe881a" stroke-width="2.68" stroke-linejoin="round"/>
<polygon points="21.35,62.97 26.35,62.44 25.1,69.58 21.35,71.36 18.49,67.44" fill="#ea5e06" stroke="#ea5e06" stroke-width="3.57" stroke-linejoin="round"/><polygon points="21.55,64.07 25.3,63.66 24.36,69.02 21.55,70.36 19.41,67.41" fill="url(#g2)" stroke="#fa7c12" stroke-width="2.68" stroke-linejoin="round"/>
</g>
</g>
<rect x="38.8" y="54.5" width="15.1" height="11" fill="none" stroke="#1c7cd6" stroke-width="1.35"/>
<text x="3.8" y="85.5" font-size="4.75" font-family="Liberation Sans, sans-serif" fill="#222" stroke="#222" stroke-width="0.12" textLength="29.2" lengthAdjust="spacingAndGlyphs">Height Sensor</text>
<rect x="62.2" y="81.18" width="16.2" height="1.0" fill="#222"/>
<text x="70.3" y="86.1" font-size="4.75" font-family="Liberation Sans, sans-serif" fill="#222" stroke="#222" stroke-width="0.12" text-anchor="middle">1.0 um</text>
<rect x="93.2" y="20.1" width="5.3" height="40.6" fill="url(#cb)" stroke="#777" stroke-width="0.6"/>
<text x="95.5" y="19.2" font-size="4.7" font-family="Liberation Sans, sans-serif" fill="#222" stroke="#222" stroke-width="0.12" text-anchor="middle">341.9 nm</text>
<text x="95" y="65.0" font-size="4.7" font-family="Liberation Sans, sans-serif" fill="#222" stroke="#222" stroke-width="0.12" text-anchor="middle">-241.7 nm</text>
<text x="-13.2" y="4.7" font-size="9.9"  font-weight="bold" font-family="Liberation Serif, serif" fill="#111" stroke="#111" stroke-width="0.25">(g)</text>
<rect x="-20.75" y="8" width="1.7" height="73.6" fill="#0a0a0a"/>
<polygon points="-19.9,5.0 -22.3,9.0 -17.5,9.0" fill="#111"/>
<text transform="translate(-13.3,16.5) rotate(90)" font-size="10.4" font-family="Liberation Serif, serif" fill="#111" stroke="#111" stroke-width="0.3" textLength="52.8" lengthAdjust="spacingAndGlyphs">2139 - 2394 s</text>
</g>
<g transform="translate(439.95,100.8)">
<g clip-path="url(#pc)">
<rect x="0" y="0" width="82" height="80" fill="#b83004"/>
<g filter="url(#b6)">
<ellipse cx="10" cy="12" rx="22" ry="13" fill="#6e1400" opacity="0.5"/>
<ellipse cx="40" cy="-3" rx="50" ry="5" fill="#4a0a00" opacity="0.7"/>
<ellipse cx="26" cy="40" rx="16" ry="10" fill="#d4480a" opacity="0.45"/>
<ellipse cx="60" cy="74" rx="22" ry="8" fill="#d84c0a" opacity="0.4"/>
</g>
<g filter="url(#b3)">
<ellipse cx="57" cy="34" rx="5" ry="12" fill="#2c0400" opacity="0.9"/>
<ellipse cx="49" cy="48" rx="6" ry="4" fill="#300400" opacity="0.9"/>
<ellipse cx="5" cy="42" rx="4" ry="14" fill="#400800" opacity="0.4"/>
<ellipse cx="61" cy="14" rx="4" ry="5" fill="#400800" opacity="0.6"/>
<ellipse cx="77" cy="36" rx="3" ry="6" fill="#300400" opacity="0.6"/>
<ellipse cx="27" cy="64" rx="6" ry="4" fill="#300400" opacity="0.5"/>
<ellipse cx="6" cy="68" rx="4" ry="5" fill="#300400" opacity="0.7"/>
<ellipse cx="46" cy="77" rx="20" ry="6" fill="#d44808" opacity="0.6"/>
<ellipse cx="26" cy="42" rx="12" ry="12" fill="#c63e06" opacity="0.4"/>
</g>
<g filter="url(#b2)" opacity="0.8">
<rect x="34.5" y="-2" width="3.5" height="84" fill="#500a00" opacity="0.5"/>
<rect x="9" y="-2" width="3" height="84" fill="#500a00" opacity="0.3"/>
<rect x="-2" y="24" width="85" height="3.5" fill="#500a00" opacity="0.35"/>
<rect x="-2" y="50" width="85" height="3" fill="#500a00" opacity="0.4"/>
<rect x="-2" y="64" width="85" height="2.5" fill="#500a00" opacity="0.25"/>
</g>
<rect x="0" y="0" width="82" height="80" filter="url(#nz)"/>
<rect x="0" y="0" width="82" height="80" filter="url(#nz2)"/>
<g filter="url(#b2)" fill="#200300" stroke="#200300" opacity="0.7">
<polygon points="16.16,-1.15 22.41,-1.82 20.84,7.11 16.16,9.34 12.59,4.43" stroke-width="3.72" stroke-linejoin="round"/>
<polygon points="12.51,-2.81 16.89,-3.27 15.79,2.98 12.51,4.54 10.01,1.1" stroke-width="2.6" stroke-linejoin="round"/>
<polygon points="29.36,3.55 35.61,2.88 34.04,11.81 29.36,14.04 25.79,9.13" stroke-width="3.72" stroke-linejoin="round"/>
<polygon points="38.24,2.16 43.87,1.56 42.46,9.6 38.24,11.61 35.03,7.19" stroke-width="3.35" stroke-linejoin="round"/>
<polygon points="46.24,-1.94 51.87,-2.54 50.46,5.5 46.24,7.51 43.03,3.09" stroke-width="3.35" stroke-linejoin="round"/>
<polygon points="62.56,-2.15 68.81,-2.82 67.24,6.11 62.56,8.34 58.99,3.43" stroke-width="3.72" stroke-linejoin="round"/>
<polygon points="76.79,-2.09 80.54,-2.49 79.61,2.86 76.79,4.2 74.65,1.26" stroke-width="2.23" stroke-linejoin="round"/>
<polygon points="26.28,-2.08 29.4,-2.41 28.62,2.05 26.28,3.17 24.49,0.71" stroke-width="1.86" stroke-linejoin="round"/>
<polygon points="14.73,11.08 19.73,10.54 18.48,17.69 14.73,19.47 11.87,15.54" stroke-width="2.98" stroke-linejoin="round"/>
<polygon points="20.94,12.46 26.57,11.86 25.16,19.9 20.94,21.91 17.73,17.49" stroke-width="3.35" stroke-linejoin="round"/>
<polygon points="55.56,6.85 61.81,6.18 60.24,15.11 55.56,17.34 51.99,12.43" stroke-width="3.72" stroke-linejoin="round"/>
<polygon points="49.77,14.43 56.65,13.7 54.93,23.52 49.77,25.97 45.85,20.57" stroke-width="4.09" stroke-linejoin="round"/>
<polygon points="71.87,9.73 78.75,9 77.03,18.82 71.87,21.27 67.95,15.87" stroke-width="4.09" stroke-linejoin="round"/>
<polygon points="48.37,23.03 55.25,22.3 53.53,32.12 48.37,34.57 44.45,29.17" stroke-width="4.09" stroke-linejoin="round"/>
<polygon points="50.77,29.13 57.65,28.4 55.93,38.22 50.77,40.67 46.85,35.27" stroke-width="4.09" stroke-linejoin="round"/>
<polygon points="50.05,36.16 55.99,35.52 54.5,44 50.05,46.12 46.66,41.46" stroke-width="3.53" stroke-linejoin="round"/>
<polygon points="65.94,28.36 71.57,27.76 70.16,35.8 65.94,37.81 62.73,33.39" stroke-width="3.35" stroke-linejoin="round"/>
<polygon points="70.44,31.76 76.07,31.16 74.66,39.2 70.44,41.21 67.23,36.79" stroke-width="3.35" stroke-linejoin="round"/>
<polygon points="75.87,39.23 82.75,38.5 81.03,48.32 75.87,50.77 71.95,45.37" stroke-width="4.09" stroke-linejoin="round"/>
<polygon points="73.73,47.88 78.73,47.34 77.48,54.49 73.73,56.27 70.87,52.34" stroke-width="2.98" stroke-linejoin="round"/>
<polygon points="43.24,46.46 48.87,45.86 47.46,53.9 43.24,55.91 40.03,51.49" stroke-width="3.35" stroke-linejoin="round"/>
<polygon points="61.56,47.85 67.81,47.18 66.24,56.11 61.56,58.34 57.99,53.43" stroke-width="3.72" stroke-linejoin="round"/>
<polygon points="70.44,52.86 76.07,52.26 74.66,60.3 70.44,62.31 67.23,57.89" stroke-width="3.35" stroke-linejoin="round"/>
<polygon points="64.01,57.69 68.39,57.23 67.29,63.48 64.01,65.04 61.51,61.6" stroke-width="2.6" stroke-linejoin="round"/>
<polygon points="46.24,57.96 51.87,57.36 50.46,65.4 46.24,67.41 43.03,62.99" stroke-width="3.35" stroke-linejoin="round"/>
<polygon points="61.34,62.96 66.97,62.36 65.56,70.4 61.34,72.41 58.13,67.99" stroke-width="3.35" stroke-linejoin="round"/>
<polygon points="66.44,72.06 72.07,71.46 70.66,79.5 66.44,81.51 63.23,77.09" stroke-width="3.35" stroke-linejoin="round"/>
<polygon points="2.11,54.09 6.49,53.63 5.39,59.88 2.11,61.44 -0.39,58" stroke-width="2.6" stroke-linejoin="round"/>
<polygon points="2.11,62.19 6.49,61.73 5.39,67.98 2.11,69.54 -0.39,66.1" stroke-width="2.6" stroke-linejoin="round"/>
<polygon points="15.64,60.46 21.27,59.86 19.86,67.9 15.64,69.91 12.43,65.49" stroke-width="3.35" stroke-linejoin="round"/>
<polygon points="22.14,64.46 27.77,63.86 26.36,71.9 22.14,73.91 18.93,69.49" stroke-width="3.35" stroke-linejoin="round"/>
</g>
<g filter="url(#b0)">
<polygon points="12.61,0.64 18.17,0.04 16.78,7.98 12.61,9.96 9.44,5.6" fill="#f06408" stroke="#f06408" stroke-width="3.97" stroke-linejoin="round"/><polygon points="12.8,1.74 17.1,1.28 16.03,7.43 12.8,8.97 10.34,5.59" fill="url(#g3)" stroke="#fe881a" stroke-width="2.98" stroke-linejoin="round"/>
<polygon points="10.03,-1.56 13.92,-1.97 12.94,3.58 10.03,4.97 7.81,1.92" fill="#ea5e06" stroke="#ea5e06" stroke-width="2.78" stroke-linejoin="round"/><polygon points="10.18,-0.7 13.1,-1.02 12.37,3.15 10.18,4.19 8.52,1.9" fill="url(#g2)" stroke="#fa7c12" stroke-width="2.08" stroke-linejoin="round"/>
<polygon points="25.81,5.34 31.37,4.74 29.98,12.68 25.81,14.66 22.64,10.3" fill="#f06408" stroke="#f06408" stroke-width="3.97" stroke-linejoin="round"/><polygon points="26,6.44 30.3,5.98 29.23,12.13 26,13.67 23.54,10.29" fill="url(#g3)" stroke="#fe881a" stroke-width="2.98" stroke-linejoin="round"/>
<polygon points="35.05,3.77 40.05,3.24 38.8,10.38 35.05,12.16 32.19,8.24" fill="#ea5e06" stroke="#ea5e06" stroke-width="3.57" stroke-linejoin="round"/><polygon points="35.25,4.87 39,4.46 38.06,9.82 35.25,11.16 33.11,8.21" fill="url(#g2)" stroke="#fa7c12" stroke-width="2.68" stroke-linejoin="round"/>
<polygon points="43.05,-0.33 48.05,-0.86 46.8,6.28 43.05,8.06 40.19,4.14" fill="#ea5e06" stroke="#ea5e06" stroke-width="3.57" stroke-linejoin="round"/><polygon points="43.25,0.77 47,0.36 46.06,5.72 43.25,7.06 41.11,4.11" fill="url(#g2)" stroke="#fa7c12" stroke-width="2.68" stroke-linejoin="round"/>
<polygon points="59.01,-0.36 64.57,-0.96 63.18,6.98 59.01,8.96 55.84,4.6" fill="#f06408" stroke="#f06408" stroke-width="3.97" stroke-linejoin="round"/><polygon points="59.2,0.74 63.5,0.28 62.43,6.43 59.2,7.97 56.74,4.59" fill="url(#g3)" stroke="#fe881a" stroke-width="2.98" stroke-linejoin="round"/>
<polygon points="74.67,-1.02 78,-1.38 77.17,3.39 74.67,4.58 72.76,1.96" fill="#ea5e06" stroke="#ea5e06" stroke-width="2.38" stroke-linejoin="round"/><polygon points="74.8,-0.29 77.3,-0.56 76.68,3.01 74.8,3.91 73.37,1.94" fill="url(#g2)" stroke="#fa7c12" stroke-width="1.79" stroke-linejoin="round"/>
<polygon points="24.51,-1.18 27.28,-1.48 26.59,2.49 24.51,3.48 22.92,1.3" fill="#ea5e06" stroke="#ea5e06" stroke-width="1.98" stroke-linejoin="round"/><polygon points="24.62,-0.57 26.7,-0.8 26.18,2.18 24.62,2.92 23.43,1.29" fill="url(#g2)" stroke="#fa7c12" stroke-width="1.49" stroke-linejoin="round"/>
<polygon points="11.89,12.51 16.33,12.03 15.22,18.38 11.89,19.97 9.35,16.48" fill="#ea5e06" stroke="#ea5e06" stroke-width="3.17" stroke-linejoin="round"/><polygon points="12.07,13.48 15.4,13.12 14.57,17.88 12.07,19.08 10.16,16.46" fill="url(#g2)" stroke="#fa7c12" stroke-width="2.38" stroke-linejoin="round"/>
<polygon points="17.75,14.07 22.75,13.54 21.5,20.68 17.75,22.46 14.89,18.54" fill="#ea5e06" stroke="#ea5e06" stroke-width="3.57" stroke-linejoin="round"/><polygon points="17.95,15.17 21.7,14.76 20.76,20.12 17.95,21.46 15.81,18.51" fill="url(#g2)" stroke="#fa7c12" stroke-width="2.68" stroke-linejoin="round"/>
<polygon points="6.17,17.38 9.5,17.02 8.67,21.79 6.17,22.98 4.26,20.36" fill="#da5404" stroke="#da5404" stroke-width="2.38" stroke-linejoin="round"/><polygon points="6.32,18.18 8.74,17.92 8.13,21.37 6.32,22.23 4.94,20.33" fill="url(#g1)" stroke="#ec6a0c" stroke-width="1.79" stroke-linejoin="round"/>
<polygon points="52.01,8.64 57.57,8.04 56.18,15.98 52.01,17.96 48.84,13.6" fill="#f26808" stroke="#f26808" stroke-width="3.97" stroke-linejoin="round"/><polygon points="52.1,9.41 56.82,8.91 55.64,15.65 52.1,17.34 49.4,13.63" fill="url(#g4)" stroke="#ff9426" stroke-width="2.98" stroke-linejoin="round"/>
<polygon points="45.78,16.11 52.26,15.42 50.64,24.67 45.78,26.98 42.08,21.89" fill="#f6760e" stroke="#f6760e" stroke-width="4.63" stroke-linejoin="round"/><polygon points="45.64,16.26 52.11,15.56 50.49,24.81 45.64,27.13 41.93,22.04" fill="url(#g5)" stroke="#ffbc6c" stroke-width="3.47" stroke-linejoin="round"/>
<polygon points="67.97,11.7 74.08,11.04 72.56,19.77 67.97,21.96 64.48,17.15" fill="#f06408" stroke="#f06408" stroke-width="4.36" stroke-linejoin="round"/><polygon points="68.18,12.92 72.92,12.41 71.73,19.17 68.18,20.86 65.47,17.14" fill="url(#g3)" stroke="#fe881a" stroke-width="3.27" stroke-linejoin="round"/>
<polygon points="44.38,24.71 50.86,24.02 49.24,33.27 44.38,35.58 40.68,30.49" fill="#f6760e" stroke="#f6760e" stroke-width="4.63" stroke-linejoin="round"/><polygon points="44.24,24.86 50.71,24.16 49.09,33.41 44.24,35.73 40.53,30.64" fill="url(#g5)" stroke="#ffbc6c" stroke-width="3.47" stroke-linejoin="round"/>
<polygon points="46.78,30.81 53.26,30.12 51.64,39.37 46.78,41.68 43.08,36.59" fill="#f6760e" stroke="#f6760e" stroke-width="4.63" stroke-linejoin="round"/><polygon points="46.64,30.96 53.11,30.26 51.49,39.51 46.64,41.83 42.93,36.74" fill="url(#g5)" stroke="#ffbc6c" stroke-width="3.47" stroke-linejoin="round"/>
<polygon points="46.6,37.6 52.2,37.01 50.8,45 46.6,46.99 43.4,42.6" fill="#f6760e" stroke="#f6760e" stroke-width="4" stroke-linejoin="round"/><polygon points="46.48,37.73 52.07,37.13 50.67,45.12 46.48,47.12 43.28,42.72" fill="url(#g5)" stroke="#ffbc6c" stroke-width="3" stroke-linejoin="round"/>
<polygon points="62.75,29.97 67.75,29.44 66.5,36.58 62.75,38.36 59.89,34.44" fill="#f06408" stroke="#f06408" stroke-width="3.57" stroke-linejoin="round"/><polygon points="62.92,30.97 66.79,30.55 65.83,36.09 62.92,37.47 60.71,34.43" fill="url(#g3)" stroke="#fe881a" stroke-width="2.68" stroke-linejoin="round"/>
<polygon points="67.25,33.37 72.25,32.84 71,39.98 67.25,41.76 64.39,37.84" fill="#f06408" stroke="#f06408" stroke-width="3.57" stroke-linejoin="round"/><polygon points="67.42,34.37 71.29,33.95 70.33,39.49 67.42,40.87 65.21,37.83" fill="url(#g3)" stroke="#fe881a" stroke-width="2.68" stroke-linejoin="round"/>
<polygon points="71.97,41.2 78.08,40.54 76.56,49.27 71.97,51.46 68.48,46.65" fill="#f06408" stroke="#f06408" stroke-width="4.36" stroke-linejoin="round"/><polygon points="72.18,42.42 76.92,41.91 75.73,48.67 72.18,50.36 69.47,46.64" fill="url(#g3)" stroke="#fe881a" stroke-width="3.27" stroke-linejoin="round"/>
<polygon points="70.89,49.31 75.33,48.83 74.22,55.18 70.89,56.77 68.35,53.28" fill="#ea5e06" stroke="#ea5e06" stroke-width="3.17" stroke-linejoin="round"/><polygon points="71.07,50.28 74.4,49.92 73.57,54.68 71.07,55.88 69.16,53.26" fill="url(#g2)" stroke="#fa7c12" stroke-width="2.38" stroke-linejoin="round"/>
<polygon points="40.05,48.07 45.05,47.54 43.8,54.68 40.05,56.46 37.19,52.54" fill="#f06408" stroke="#f06408" stroke-width="3.57" stroke-linejoin="round"/><polygon points="40.22,49.07 44.09,48.65 43.13,54.19 40.22,55.57 38.01,52.53" fill="url(#g3)" stroke="#fe881a" stroke-width="2.68" stroke-linejoin="round"/>
<polygon points="58.01,49.64 63.57,49.04 62.18,56.98 58.01,58.96 54.84,54.6" fill="#f26808" stroke="#f26808" stroke-width="3.97" stroke-linejoin="round"/><polygon points="58.1,50.41 62.82,49.91 61.64,56.65 58.1,58.34 55.4,54.63" fill="url(#g4)" stroke="#ff9426" stroke-width="2.98" stroke-linejoin="round"/>
<polygon points="67.25,54.47 72.25,53.94 71,61.08 67.25,62.86 64.39,58.94" fill="#ea5e06" stroke="#ea5e06" stroke-width="3.57" stroke-linejoin="round"/><polygon points="67.45,55.57 71.2,55.16 70.26,60.52 67.45,61.86 65.31,58.91" fill="url(#g2)" stroke="#fa7c12" stroke-width="2.68" stroke-linejoin="round"/>
<polygon points="61.53,58.94 65.42,58.53 64.44,64.08 61.53,65.47 59.31,62.42" fill="#ea5e06" stroke="#ea5e06" stroke-width="2.78" stroke-linejoin="round"/><polygon points="61.68,59.8 64.6,59.48 63.87,63.65 61.68,64.69 60.02,62.4" fill="url(#g2)" stroke="#fa7c12" stroke-width="2.08" stroke-linejoin="round"/>
<polygon points="43.05,59.57 48.05,59.04 46.8,66.18 43.05,67.96 40.19,64.04" fill="#f06408" stroke="#f06408" stroke-width="3.57" stroke-linejoin="round"/><polygon points="43.22,60.57 47.09,60.15 46.13,65.69 43.22,67.07 41.01,64.03" fill="url(#g3)" stroke="#fe881a" stroke-width="2.68" stroke-linejoin="round"/>
<polygon points="58.15,64.57 63.15,64.04 61.9,71.18 58.15,72.96 55.29,69.04" fill="#f06408" stroke="#f06408" stroke-width="3.57" stroke-linejoin="round"/><polygon points="58.32,65.57 62.19,65.15 61.23,70.69 58.32,72.07 56.11,69.03" fill="url(#g3)" stroke="#fe881a" stroke-width="2.68" stroke-linejoin="round"/>
<polygon points="63.25,73.67 68.25,73.14 67,80.28 63.25,82.06 60.39,78.14" fill="#f06408" stroke="#f06408" stroke-width="3.57" stroke-linejoin="round"/><polygon points="63.42,74.67 67.29,74.25 66.33,79.79 63.42,81.17 61.21,78.13" fill="url(#g3)" stroke="#fe881a" stroke-width="2.68" stroke-linejoin="round"/>
<polygon points="-0.37,55.34 3.52,54.93 2.54,60.48 -0.37,61.87 -2.59,58.82" fill="#f06408" stroke="#f06408" stroke-width="2.78" stroke-linejoin="round"/><polygon points="-0.24,56.12 2.77,55.8 2.02,60.1 -0.24,61.18 -1.96,58.81" fill="url(#g3)" stroke="#fe881a" stroke-width="2.08" stroke-linejoin="round"/>
<polygon points="-0.37,63.44 3.52,63.03 2.54,68.58 -0.37,69.97 -2.59,66.92" fill="#f06408" stroke="#f06408" stroke-width="2.78" stroke-linejoin="round"/><polygon points="-0.24,64.22 2.77,63.9 2.02,68.2 -0.24,69.28 -1.96,66.91" fill="url(#g3)" stroke="#fe881a" stroke-width="2.08" stroke-linejoin="round"/>
<polygon points="12.45,62.07 17.45,61.54 16.2,68.68 12.45,70.46 9.59,66.54" fill="#f06408" stroke="#f06408" stroke-width="3.57" stroke-linejoin="round"/><polygon points="12.62,63.07 16.49,62.65 15.53,68.19 12.62,69.57 10.41,66.53" fill="url(#g3)" stroke="#fe881a" stroke-width="2.68" stroke-linejoin="round"/>
<polygon points="18.95,66.07 23.95,65.54 22.7,72.68 18.95,74.46 16.09,70.54" fill="#ea5e06" stroke="#ea5e06" stroke-width="3.57" stroke-linejoin="round"/><polygon points="19.15,67.17 22.9,66.76 21.96,72.12 19.15,73.46 17.01,70.51" fill="url(#g2)" stroke="#fa7c12" stroke-width="2.68" stroke-linejoin="round"/>
</g>
</g>
<rect x="37.2" y="57.5" width="14.3" height="10.9" fill="none" stroke="#1c7cd6" stroke-width="1.35"/>
<text x="3.8" y="85.5" font-size="4.75" font-family="Liberation Sans, sans-serif" fill="#222" stroke="#222" stroke-width="0.12" textLength="29.2" lengthAdjust="spacingAndGlyphs">Height Sensor</text>
<rect x="62.2" y="81.18" width="16.2" height="1.0" fill="#222"/>
<text x="70.3" y="86.1" font-size="4.75" font-family="Liberation Sans, sans-serif" fill="#222" stroke="#222" stroke-width="0.12" text-anchor="middle">1.0 um</text>
<rect x="93.2" y="20.1" width="5.3" height="40.6" fill="url(#cb)" stroke="#777" stroke-width="0.6"/>
<text x="95.5" y="19.2" font-size="4.7" font-family="Liberation Sans, sans-serif" fill="#222" stroke="#222" stroke-width="0.12" text-anchor="middle">357.5 nm</text>
<text x="95" y="65.0" font-size="4.7" font-family="Liberation Sans, sans-serif" fill="#222" stroke="#222" stroke-width="0.12" text-anchor="middle">-251.9 nm</text>
<text x="-13.2" y="4.7" font-size="9.9"  font-weight="bold" font-family="Liberation Serif, serif" fill="#111" stroke="#111" stroke-width="0.25">(h)</text>
<rect x="-20.7" y="8" width="1.7" height="73.6" fill="#0a0a0a"/>
<polygon points="-19.85,5.0 -22.25,9.0 -17.45,9.0" fill="#111"/>
<text transform="translate(-13.25,16.5) rotate(90)" font-size="10.4" font-family="Liberation Serif, serif" fill="#111" stroke="#111" stroke-width="0.3" textLength="52.8" lengthAdjust="spacingAndGlyphs">2139 - 2394 s</text>
</g>
<g stroke="#3c3c3c" stroke-width="1.3" fill="none">
<path d="M37.6,201.4 V282.8 M37.6,286 V359.7"/>
<path d="M233.1,201.4 V282.8 M233.1,286 V359.7"/>
<path d="M37.6,201.9 H233.1 M37.6,359.2 H233.1"/>
</g>
<g stroke="#1c1c1c" stroke-width="0.75">
<line x1="34.6" y1="284.25" x2="40.6" y2="281.25"/>
<line x1="34.6" y1="287.35" x2="40.6" y2="284.35"/>
<line x1="230.1" y1="284.25" x2="236.1" y2="281.25"/>
<line x1="230.1" y1="287.35" x2="236.1" y2="284.35"/>
</g>
<g stroke="#3c3c3c" stroke-width="0.9">
<line x1="37.6" y1="218.1" x2="40.2" y2="218.1"/>
<line x1="37.6" y1="250.1" x2="40.2" y2="250.1"/>
<line x1="37.6" y1="301.79" x2="40.2" y2="301.79"/>
<line x1="37.6" y1="316.96" x2="40.2" y2="316.96"/>
<line x1="37.6" y1="332.13" x2="40.2" y2="332.13"/>
<line x1="37.6" y1="347.3" x2="40.2" y2="347.3"/>
<line x1="37.6" y1="202.1" x2="39" y2="202.1"/>
<line x1="37.6" y1="234.1" x2="39" y2="234.1"/>
<line x1="37.6" y1="266.1" x2="39" y2="266.1"/>
<line x1="37.6" y1="294.21" x2="39" y2="294.21"/>
<line x1="37.6" y1="309.38" x2="39" y2="309.38"/>
<line x1="37.6" y1="324.55" x2="39" y2="324.55"/>
<line x1="37.6" y1="339.72" x2="39" y2="339.72"/>
<line x1="37.6" y1="354.88" x2="39" y2="354.88"/>
<line x1="54.9" y1="359.2" x2="54.9" y2="356.6"/>
<line x1="99.45" y1="359.2" x2="99.45" y2="356.6"/>
<line x1="144" y1="359.2" x2="144" y2="356.6"/>
<line x1="188.55" y1="359.2" x2="188.55" y2="356.6"/>
<line x1="233.1" y1="359.2" x2="233.1" y2="356.6"/>
<line x1="77.17" y1="359.2" x2="77.17" y2="357.8"/>
<line x1="121.72" y1="359.2" x2="121.72" y2="357.8"/>
<line x1="166.28" y1="359.2" x2="166.28" y2="357.8"/>
<line x1="210.82" y1="359.2" x2="210.82" y2="357.8"/>
</g>
<g font-size="11" font-family="Liberation Serif, serif" fill="#1a1a1a" stroke="#1a1a1a" stroke-width="0.12">
<text x="34" y="221.4" text-anchor="end">510</text>
<text x="34" y="253.4" text-anchor="end">480</text>
<text x="34" y="305.09" text-anchor="end">240</text>
<text x="34" y="320.26" text-anchor="end">210</text>
<text x="34" y="335.43" text-anchor="end">180</text>
<text x="34" y="350.6" text-anchor="end">150</text>
<text x="54.9" y="371.5" text-anchor="middle">2000</text>
<text x="99.45" y="371.5" text-anchor="middle">2500</text>
<text x="144" y="371.5" text-anchor="middle">3000</text>
<text x="188.55" y="371.5" text-anchor="middle">3500</text>
<text x="233.1" y="371.5" text-anchor="middle">4000</text>
<text x="135.7" y="386.9" text-anchor="middle" font-size="11.2">Time (s)</text>
<text transform="translate(12.4,280.5) rotate(-90)" text-anchor="middle" font-size="11.2">Radius (nm)</text>
</g>
<text x="43.9" y="214.6" font-size="10.3" font-weight="bold" font-family="Liberation Serif, serif" fill="#111" stroke="#111" stroke-width="0.2">(i)</text>
<g stroke="#f31d1d" stroke-width="1" fill="none" stroke-linecap="round">
<path d="M57.6,279.5 C74.2,268.7 90.8,257.6 107.3,247 C123.8,236.4 140,225 156.4,218.3 C172.8,211.8 189.1,210.6 205.5,208.6"/>
<path d="M57.8,342.6 L205.5,290.3"/>
<line x1="176.1" y1="336.2" x2="197.7" y2="336.2"/>
<line x1="176.1" y1="348.2" x2="197.7" y2="348.2"/>
</g>
<g fill="#f31d1d">
<rect x="56.05" y="344.55" width="3.5" height="3.5"/>
<rect x="105.55" y="317.85" width="3.5" height="3.5"/>
<rect x="154.65" y="306.95" width="3.5" height="3.5"/>
<rect x="203.75" y="289.55" width="3.5" height="3.5"/>
<rect x="185.15" y="334.45" width="3.5" height="3.5"/>
<polygon points="57.6,277 55.35,280.9 59.85,280.9"/>
<polygon points="107.3,243.8 105.05,247.7 109.55,247.7"/>
<polygon points="156.4,212 154.15,215.9 158.65,215.9"/>
<polygon points="205.5,206 203.25,209.9 207.75,209.9"/>
<polygon points="186.9,345.9 184.65,349.8 189.15,349.8"/>
</g>
<g font-size="9.5" font-family="Liberation Serif, serif" fill="#1a1a1a" stroke="#1a1a1a" stroke-width="0.12">
<text x="200.5" y="339.3">Height</text>
<text x="200.5" y="351.3">Width</text>
</g>
<g stroke="#3c3c3c" stroke-width="1.3" fill="none">
<path d="M318.5,201.4 V283 M318.5,286.2 V359.7"/>
<path d="M514.2,201.4 V283 M514.2,286.2 V359.7"/>
<path d="M318.5,201.9 H514.2 M318.5,359.2 H514.2"/>
</g>
<g stroke="#1c1c1c" stroke-width="0.75">
<line x1="315.5" y1="284.45" x2="321.5" y2="281.45"/>
<line x1="315.5" y1="287.55" x2="321.5" y2="284.55"/>
<line x1="511.2" y1="284.45" x2="517.2" y2="281.45"/>
<line x1="511.2" y1="287.55" x2="517.2" y2="284.55"/>
</g>
<g stroke="#3c3c3c" stroke-width="0.9">
<line x1="318.5" y1="201.89" x2="321.1" y2="201.89"/>
<line x1="318.5" y1="222.26" x2="321.1" y2="222.26"/>
<line x1="318.5" y1="242.63" x2="321.1" y2="242.63"/>
<line x1="318.5" y1="263" x2="321.1" y2="263"/>
<line x1="318.5" y1="298.6" x2="321.1" y2="298.6"/>
<line x1="318.5" y1="318.8" x2="321.1" y2="318.8"/>
<line x1="318.5" y1="339" x2="321.1" y2="339"/>
<line x1="318.5" y1="359.2" x2="321.1" y2="359.2"/>
<line x1="318.5" y1="212.07" x2="319.9" y2="212.07"/>
<line x1="318.5" y1="232.44" x2="319.9" y2="232.44"/>
<line x1="318.5" y1="252.81" x2="319.9" y2="252.81"/>
<line x1="318.5" y1="273.19" x2="319.9" y2="273.19"/>
<line x1="318.5" y1="288.5" x2="319.9" y2="288.5"/>
<line x1="318.5" y1="308.7" x2="319.9" y2="308.7"/>
<line x1="318.5" y1="328.9" x2="319.9" y2="328.9"/>
<line x1="318.5" y1="349.1" x2="319.9" y2="349.1"/>
<line x1="318.5" y1="359.2" x2="318.5" y2="356.6"/>
<line x1="357.64" y1="359.2" x2="357.64" y2="356.6"/>
<line x1="396.78" y1="359.2" x2="396.78" y2="356.6"/>
<line x1="435.92" y1="359.2" x2="435.92" y2="356.6"/>
<line x1="475.06" y1="359.2" x2="475.06" y2="356.6"/>
<line x1="514.2" y1="359.2" x2="514.2" y2="356.6"/>
<line x1="338.07" y1="359.2" x2="338.07" y2="357.8"/>
<line x1="377.21" y1="359.2" x2="377.21" y2="357.8"/>
<line x1="416.35" y1="359.2" x2="416.35" y2="357.8"/>
<line x1="455.49" y1="359.2" x2="455.49" y2="357.8"/>
<line x1="494.63" y1="359.2" x2="494.63" y2="357.8"/>
</g>
<g font-size="11" font-family="Liberation Serif, serif" fill="#1a1a1a" stroke="#1a1a1a" stroke-width="0.12">
<text x="314.9" y="205.19" text-anchor="end">525</text>
<text x="314.9" y="225.56" text-anchor="end">500</text>
<text x="314.9" y="245.93" text-anchor="end">475</text>
<text x="314.9" y="266.3" text-anchor="end">450</text>
<text x="314.9" y="301.9" text-anchor="end">225</text>
<text x="314.9" y="322.1" text-anchor="end">200</text>
<text x="314.9" y="342.3" text-anchor="end">175</text>
<text x="314.9" y="362.5" text-anchor="end">150</text>
<text x="318.5" y="371.5" text-anchor="middle">2000</text>
<text x="357.64" y="371.5" text-anchor="middle">2400</text>
<text x="396.78" y="371.5" text-anchor="middle">2800</text>
<text x="435.92" y="371.5" text-anchor="middle">3200</text>
<text x="475.06" y="371.5" text-anchor="middle">3600</text>
<text x="514.2" y="371.5" text-anchor="middle">4000</text>
<text x="416.4" y="389.6" text-anchor="middle" font-size="11.2">Time (s)</text>
<text transform="translate(292.8,280.5) rotate(-90)" text-anchor="middle" font-size="11.2">Radius (nm)</text>
</g>
<text x="324.6" y="214.4" font-size="10.3" font-weight="bold" font-family="Liberation Serif, serif" fill="#111" stroke="#111" stroke-width="0.2">(j)</text>
<g stroke="#1f77b4" stroke-width="1" fill="none" stroke-linecap="round">
<path d="M340.6,280.3 C358,267 375,257 392.2,248 C410,239 426,232 443.6,225 C461,218.5 478,213 495,208.6"/>
<path d="M340.9,346.5 L495,289.8"/>
<line x1="457" y1="337.4" x2="478.4" y2="337.4"/>
<line x1="457" y1="348.9" x2="478.4" y2="348.9"/>
</g>
<rect x="464.9" y="335.9" width="5.6" height="3" fill="#fff"/>
<rect x="464.7" y="347.4" width="6.0" height="3" fill="#fff"/>
<g fill="#1f77b4">
<rect x="339.15" y="344.15" width="3.5" height="3.5"/>
<rect x="390.05" y="326.75" width="3.5" height="3.5"/>
<rect x="441.85" y="305.85" width="3.5" height="3.5"/>
<rect x="493.15" y="288.75" width="3.5" height="3.5"/>
<rect x="465.95" y="335.65" width="3.5" height="3.5"/>
<polygon points="340.5,277.7 338.25,281.6 342.75,281.6"/>
<polygon points="392.2,244.4 389.95,248.3 394.45,248.3"/>
<polygon points="443.6,221.4 441.35,225.3 445.85,225.3"/>
<polygon points="495.1,206 492.85,209.9 497.35,209.9"/>
<polygon points="467.7,346.6 465.45,350.5 469.95,350.5"/>
</g>
<g font-size="9.5" font-family="Liberation Serif, serif" fill="#1a1a1a" stroke="#1a1a1a" stroke-width="0.12">
<text x="481.6" y="340.5">Height</text>
<text x="481.6" y="352">Width</text>
</g>
</svg></body></html>
